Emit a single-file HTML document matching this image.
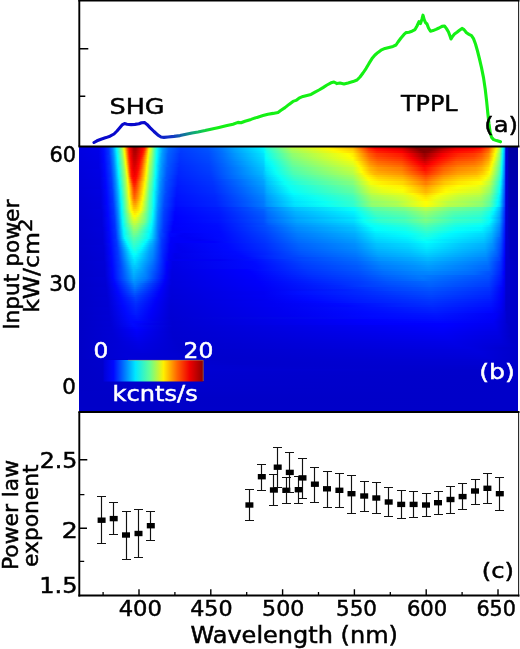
<!DOCTYPE html>
<html lang="en">
<head>
<meta charset="utf-8">
<title>SHG and TPPL spectra versus input power</title>
<style>
html,body{margin:0;padding:0;background:#fff;}
body{width:520px;height:649px;overflow:hidden;}
svg{display:block;}
text{font-family:"DejaVu Sans", "Liberation Sans", sans-serif;}
</style>
</head>
<body>
<svg width="520" height="649" viewBox="0 0 520 649">
<defs>
<linearGradient id="sg" gradientUnits="userSpaceOnUse" x1="150" y1="0" x2="215" y2="0">
<stop offset="0" stop-color="#0808cc"/><stop offset="0.35" stop-color="#1238c4"/><stop offset="0.7" stop-color="#10b070"/><stop offset="1" stop-color="#14f014"/>
</linearGradient>
<linearGradient id="cb" x1="0" y1="0" x2="1" y2="0">
<stop offset="0" stop-color="#0000d8"/><stop offset="0.10" stop-color="#0008ff"/><stop offset="0.32" stop-color="#00e8ff"/><stop offset="0.46" stop-color="#60ff98"/><stop offset="0.60" stop-color="#fff000"/><stop offset="0.74" stop-color="#ff6000"/><stop offset="0.86" stop-color="#f00000"/><stop offset="1" stop-color="#8c0000"/>
</linearGradient>

<linearGradient id="r0"><stop offset="0" stop-color="#0000e1"/><stop offset="0.04554" stop-color="#0000ea"/><stop offset="0.05692" stop-color="#000cff"/><stop offset="0.06831" stop-color="#0039ff"/><stop offset="0.07741" stop-color="#0086ff"/><stop offset="0.08652" stop-color="#00ffff"/><stop offset="0.09791" stop-color="#97ff68"/><stop offset="0.1025" stop-color="#f0ff0f"/><stop offset="0.1047" stop-color="#ffdb00"/><stop offset="0.1116" stop-color="#ff3f00"/><stop offset="0.1138" stop-color="#ff1700"/><stop offset="0.1161" stop-color="#f80000"/><stop offset="0.1252" stop-color="#a40000"/><stop offset="0.1298" stop-color="#a40000"/><stop offset="0.1457" stop-color="#fb0000"/><stop offset="0.1503" stop-color="#ff2500"/><stop offset="0.1548" stop-color="#ff7d00"/><stop offset="0.1594" stop-color="#ffea00"/><stop offset="0.1617" stop-color="#e2ff1d"/><stop offset="0.1639" stop-color="#daff25"/><stop offset="0.173" stop-color="#47ffb8"/><stop offset="0.1799" stop-color="#00f7ff"/><stop offset="0.189" stop-color="#00a9ff"/><stop offset="0.2049" stop-color="#0065ff"/><stop offset="0.2322" stop-color="#003eff"/><stop offset="0.2937" stop-color="#0055ff"/><stop offset="0.3256" stop-color="#0078ff"/><stop offset="0.3552" stop-color="#00a6ff"/><stop offset="0.4098" stop-color="#00eaff"/><stop offset="0.4212" stop-color="#00feff"/><stop offset="0.4258" stop-color="#26ffd9"/><stop offset="0.444" stop-color="#50ffaf"/><stop offset="0.485" stop-color="#b5ff4a"/><stop offset="0.5669" stop-color="#fff800"/><stop offset="0.6239" stop-color="#ffbc00"/><stop offset="0.6603" stop-color="#ff2200"/><stop offset="0.674" stop-color="#fa0000"/><stop offset="0.7354" stop-color="#d00000"/><stop offset="0.7696" stop-color="#800000"/><stop offset="0.8106" stop-color="#840000"/><stop offset="0.8584" stop-color="#df0000"/><stop offset="0.8971" stop-color="#f20000"/><stop offset="0.913" stop-color="#ff0500"/><stop offset="0.9335" stop-color="#ff5200"/><stop offset="0.9517" stop-color="#fdff02"/><stop offset="0.9586" stop-color="#b0ff4f"/><stop offset="0.9654" stop-color="#0ffff0"/><stop offset="0.9677" stop-color="#00d3ff"/><stop offset="0.9699" stop-color="#0098ff"/><stop offset="0.9722" stop-color="#0000d3"/><stop offset="0.9768" stop-color="#0000d3"/><stop offset="0.9791" stop-color="#0000a3"/><stop offset="0.9995" stop-color="#0000a3"/></linearGradient>
<linearGradient id="r1"><stop offset="0" stop-color="#0000e0"/><stop offset="0.04554" stop-color="#0000e9"/><stop offset="0.05692" stop-color="#000bff"/><stop offset="0.06831" stop-color="#0036ff"/><stop offset="0.07741" stop-color="#0082ff"/><stop offset="0.08652" stop-color="#00fbff"/><stop offset="0.09791" stop-color="#8fff70"/><stop offset="0.1025" stop-color="#e5ff1a"/><stop offset="0.1047" stop-color="#ffe700"/><stop offset="0.1116" stop-color="#ff4700"/><stop offset="0.1161" stop-color="#fd0000"/><stop offset="0.1252" stop-color="#aa0000"/><stop offset="0.1298" stop-color="#aa0000"/><stop offset="0.1457" stop-color="#ff0500"/><stop offset="0.1503" stop-color="#ff3700"/><stop offset="0.1594" stop-color="#fff700"/><stop offset="0.1617" stop-color="#d8ff27"/><stop offset="0.1639" stop-color="#d1ff2e"/><stop offset="0.173" stop-color="#42ffbd"/><stop offset="0.1776" stop-color="#0cfff3"/><stop offset="0.1821" stop-color="#00ddff"/><stop offset="0.1913" stop-color="#0099ff"/><stop offset="0.2049" stop-color="#0062ff"/><stop offset="0.2322" stop-color="#003bff"/><stop offset="0.2937" stop-color="#0051ff"/><stop offset="0.3256" stop-color="#0074ff"/><stop offset="0.3552" stop-color="#00a0ff"/><stop offset="0.4121" stop-color="#00e6ff"/><stop offset="0.4212" stop-color="#00f6ff"/><stop offset="0.4281" stop-color="#20ffdf"/><stop offset="0.485" stop-color="#a7ff58"/><stop offset="0.5806" stop-color="#fff900"/><stop offset="0.6239" stop-color="#ffce00"/><stop offset="0.6603" stop-color="#ff3800"/><stop offset="0.6785" stop-color="#ff0f00"/><stop offset="0.7149" stop-color="#f70000"/><stop offset="0.7354" stop-color="#e90000"/><stop offset="0.7787" stop-color="#800000"/><stop offset="0.8015" stop-color="#850000"/><stop offset="0.8311" stop-color="#cb0000"/><stop offset="0.8607" stop-color="#f80000"/><stop offset="0.8971" stop-color="#ff0b00"/><stop offset="0.9153" stop-color="#ff2400"/><stop offset="0.9335" stop-color="#ff6700"/><stop offset="0.9495" stop-color="#fff700"/><stop offset="0.9586" stop-color="#a2ff5d"/><stop offset="0.9654" stop-color="#06fff9"/><stop offset="0.9699" stop-color="#0092ff"/><stop offset="0.9722" stop-color="#0000d3"/><stop offset="0.9768" stop-color="#0000d3"/><stop offset="0.9791" stop-color="#0000a4"/><stop offset="0.9995" stop-color="#0000a4"/></linearGradient>
<linearGradient id="r2"><stop offset="0" stop-color="#0000e0"/><stop offset="0.04554" stop-color="#0000e8"/><stop offset="0.05692" stop-color="#000aff"/><stop offset="0.06831" stop-color="#0034ff"/><stop offset="0.07741" stop-color="#007fff"/><stop offset="0.08652" stop-color="#00f5ff"/><stop offset="0.09791" stop-color="#87ff78"/><stop offset="0.1025" stop-color="#daff25"/><stop offset="0.1047" stop-color="#fff300"/><stop offset="0.1138" stop-color="#ff2400"/><stop offset="0.1161" stop-color="#ff0300"/><stop offset="0.1252" stop-color="#b00000"/><stop offset="0.1298" stop-color="#b10000"/><stop offset="0.1434" stop-color="#fd0000"/><stop offset="0.148" stop-color="#ff2700"/><stop offset="0.1548" stop-color="#ffa500"/><stop offset="0.1594" stop-color="#fcff03"/><stop offset="0.1617" stop-color="#cfff30"/><stop offset="0.1639" stop-color="#c9ff36"/><stop offset="0.173" stop-color="#3effc1"/><stop offset="0.1776" stop-color="#09fff6"/><stop offset="0.1913" stop-color="#0097ff"/><stop offset="0.2049" stop-color="#0060ff"/><stop offset="0.2322" stop-color="#0039ff"/><stop offset="0.296" stop-color="#0050ff"/><stop offset="0.3256" stop-color="#0070ff"/><stop offset="0.3552" stop-color="#009cff"/><stop offset="0.4121" stop-color="#00e0ff"/><stop offset="0.4212" stop-color="#00f0ff"/><stop offset="0.4235" stop-color="#03fffc"/><stop offset="0.4281" stop-color="#19ffe6"/><stop offset="0.485" stop-color="#9dff62"/><stop offset="0.592" stop-color="#fff800"/><stop offset="0.6239" stop-color="#ffdb00"/><stop offset="0.6603" stop-color="#ff4900"/><stop offset="0.6785" stop-color="#ff2000"/><stop offset="0.7354" stop-color="#fb0000"/><stop offset="0.7855" stop-color="#800000"/><stop offset="0.7969" stop-color="#8d0000"/><stop offset="0.8288" stop-color="#d90000"/><stop offset="0.8561" stop-color="#ff0900"/><stop offset="0.8971" stop-color="#ff1c00"/><stop offset="0.9153" stop-color="#ff3400"/><stop offset="0.9335" stop-color="#ff7600"/><stop offset="0.9495" stop-color="#fbff04"/><stop offset="0.9586" stop-color="#99ff66"/><stop offset="0.9654" stop-color="#00ffff"/><stop offset="0.9699" stop-color="#008eff"/><stop offset="0.9722" stop-color="#0000d3"/><stop offset="0.9768" stop-color="#0000d3"/><stop offset="0.9791" stop-color="#0000a5"/><stop offset="0.9995" stop-color="#0000a5"/></linearGradient>
<linearGradient id="r3"><stop offset="0" stop-color="#0000df"/><stop offset="0.04554" stop-color="#0000e7"/><stop offset="0.05692" stop-color="#0009ff"/><stop offset="0.06831" stop-color="#0032ff"/><stop offset="0.07969" stop-color="#0095ff"/><stop offset="0.08652" stop-color="#00f0ff"/><stop offset="0.09107" stop-color="#2affd5"/><stop offset="0.1002" stop-color="#a5ff5a"/><stop offset="0.1047" stop-color="#ffff00"/><stop offset="0.1138" stop-color="#ff2a00"/><stop offset="0.1161" stop-color="#ff0800"/><stop offset="0.1252" stop-color="#b60000"/><stop offset="0.1298" stop-color="#b70000"/><stop offset="0.1434" stop-color="#ff0700"/><stop offset="0.148" stop-color="#ff3800"/><stop offset="0.1571" stop-color="#ffe100"/><stop offset="0.1594" stop-color="#f1ff0e"/><stop offset="0.1617" stop-color="#c6ff39"/><stop offset="0.1639" stop-color="#c0ff3f"/><stop offset="0.1753" stop-color="#1effe1"/><stop offset="0.1776" stop-color="#05fffa"/><stop offset="0.189" stop-color="#00a0ff"/><stop offset="0.2026" stop-color="#0062ff"/><stop offset="0.23" stop-color="#0036ff"/><stop offset="0.296" stop-color="#004dff"/><stop offset="0.3279" stop-color="#006fff"/><stop offset="0.3575" stop-color="#0098ff"/><stop offset="0.4121" stop-color="#00d8ff"/><stop offset="0.4212" stop-color="#00e6ff"/><stop offset="0.4258" stop-color="#0bfff4"/><stop offset="0.4463" stop-color="#38ffc7"/><stop offset="0.4872" stop-color="#90ff6f"/><stop offset="0.6125" stop-color="#fffe00"/><stop offset="0.6239" stop-color="#ffef00"/><stop offset="0.6603" stop-color="#ff6100"/><stop offset="0.6785" stop-color="#ff3a00"/><stop offset="0.7354" stop-color="#ff1700"/><stop offset="0.7514" stop-color="#f30000"/><stop offset="0.7878" stop-color="#960000"/><stop offset="0.8288" stop-color="#f60000"/><stop offset="0.8652" stop-color="#ff2600"/><stop offset="0.9016" stop-color="#ff3b00"/><stop offset="0.9176" stop-color="#ff5600"/><stop offset="0.9335" stop-color="#ff8d00"/><stop offset="0.9472" stop-color="#ffff00"/><stop offset="0.9586" stop-color="#8aff75"/><stop offset="0.9654" stop-color="#00f5ff"/><stop offset="0.9699" stop-color="#0088ff"/><stop offset="0.9722" stop-color="#0000d3"/><stop offset="0.9768" stop-color="#0000d3"/><stop offset="0.9791" stop-color="#0000a7"/><stop offset="0.9995" stop-color="#0000a7"/></linearGradient>
<linearGradient id="r4"><stop offset="0" stop-color="#0000df"/><stop offset="0.04554" stop-color="#0000e6"/><stop offset="0.05692" stop-color="#0008ff"/><stop offset="0.07058" stop-color="#003fff"/><stop offset="0.07969" stop-color="#0090ff"/><stop offset="0.08652" stop-color="#00ebff"/><stop offset="0.0888" stop-color="#0afff5"/><stop offset="0.1002" stop-color="#9dff62"/><stop offset="0.1047" stop-color="#f4ff0b"/><stop offset="0.107" stop-color="#ffd600"/><stop offset="0.1138" stop-color="#ff3300"/><stop offset="0.1161" stop-color="#ff0e00"/><stop offset="0.1207" stop-color="#dd0000"/><stop offset="0.1252" stop-color="#bc0000"/><stop offset="0.1298" stop-color="#be0000"/><stop offset="0.1412" stop-color="#ff0000"/><stop offset="0.1457" stop-color="#ff2900"/><stop offset="0.1571" stop-color="#ffec00"/><stop offset="0.1594" stop-color="#e8ff17"/><stop offset="0.1617" stop-color="#bfff40"/><stop offset="0.1639" stop-color="#baff45"/><stop offset="0.1753" stop-color="#1bffe4"/><stop offset="0.1776" stop-color="#02fffd"/><stop offset="0.189" stop-color="#009eff"/><stop offset="0.2026" stop-color="#0060ff"/><stop offset="0.23" stop-color="#0035ff"/><stop offset="0.296" stop-color="#004bff"/><stop offset="0.3279" stop-color="#006eff"/><stop offset="0.3575" stop-color="#0096ff"/><stop offset="0.4144" stop-color="#00d9ff"/><stop offset="0.4212" stop-color="#00e4ff"/><stop offset="0.4258" stop-color="#08fff7"/><stop offset="0.4463" stop-color="#35ffca"/><stop offset="0.4872" stop-color="#8dff72"/><stop offset="0.617" stop-color="#ffff00"/><stop offset="0.6261" stop-color="#ffea00"/><stop offset="0.6603" stop-color="#ff6700"/><stop offset="0.6785" stop-color="#ff3f00"/><stop offset="0.7354" stop-color="#ff1d00"/><stop offset="0.7536" stop-color="#f40000"/><stop offset="0.7878" stop-color="#9c0000"/><stop offset="0.8288" stop-color="#fc0000"/><stop offset="0.8629" stop-color="#ff2b00"/><stop offset="0.8994" stop-color="#ff3e00"/><stop offset="0.9176" stop-color="#ff5b00"/><stop offset="0.9335" stop-color="#ff9200"/><stop offset="0.9472" stop-color="#fbff04"/><stop offset="0.9586" stop-color="#86ff79"/><stop offset="0.9631" stop-color="#26ffd9"/><stop offset="0.9654" stop-color="#00f3ff"/><stop offset="0.9699" stop-color="#0087ff"/><stop offset="0.9722" stop-color="#0000d3"/><stop offset="0.9768" stop-color="#0000d3"/><stop offset="0.9791" stop-color="#0000a7"/><stop offset="0.9995" stop-color="#0000a7"/></linearGradient>
<linearGradient id="r5"><stop offset="0" stop-color="#0000de"/><stop offset="0.04554" stop-color="#0000e6"/><stop offset="0.05692" stop-color="#0007ff"/><stop offset="0.07058" stop-color="#003cff"/><stop offset="0.07969" stop-color="#008cff"/><stop offset="0.0888" stop-color="#05fffa"/><stop offset="0.1002" stop-color="#95ff6a"/><stop offset="0.1047" stop-color="#e8ff17"/><stop offset="0.107" stop-color="#ffe200"/><stop offset="0.1138" stop-color="#ff3c00"/><stop offset="0.1161" stop-color="#ff1500"/><stop offset="0.1184" stop-color="#f80000"/><stop offset="0.1252" stop-color="#c20000"/><stop offset="0.1298" stop-color="#c40000"/><stop offset="0.1389" stop-color="#f90000"/><stop offset="0.1434" stop-color="#ff1e00"/><stop offset="0.1526" stop-color="#ffa800"/><stop offset="0.1571" stop-color="#fff600"/><stop offset="0.1617" stop-color="#b7ff48"/><stop offset="0.1639" stop-color="#b2ff4d"/><stop offset="0.1753" stop-color="#18ffe7"/><stop offset="0.1776" stop-color="#00feff"/><stop offset="0.1867" stop-color="#00a9ff"/><stop offset="0.2026" stop-color="#005eff"/><stop offset="0.23" stop-color="#0033ff"/><stop offset="0.296" stop-color="#0049ff"/><stop offset="0.3279" stop-color="#006bff"/><stop offset="0.3575" stop-color="#0092ff"/><stop offset="0.4144" stop-color="#00d4ff"/><stop offset="0.4212" stop-color="#00dfff"/><stop offset="0.4258" stop-color="#02fffd"/><stop offset="0.4485" stop-color="#34ffcb"/><stop offset="0.4872" stop-color="#84ff7b"/><stop offset="0.6239" stop-color="#fffe00"/><stop offset="0.6626" stop-color="#ff6f00"/><stop offset="0.6785" stop-color="#ff4e00"/><stop offset="0.7354" stop-color="#ff2c00"/><stop offset="0.7582" stop-color="#fb0000"/><stop offset="0.7878" stop-color="#ae0000"/><stop offset="0.8219" stop-color="#ff0200"/><stop offset="0.8607" stop-color="#ff3a00"/><stop offset="0.8994" stop-color="#ff4d00"/><stop offset="0.9176" stop-color="#ff6900"/><stop offset="0.9335" stop-color="#ff9f00"/><stop offset="0.9449" stop-color="#fffc00"/><stop offset="0.9586" stop-color="#7eff81"/><stop offset="0.9631" stop-color="#20ffdf"/><stop offset="0.9654" stop-color="#00edff"/><stop offset="0.9699" stop-color="#0083ff"/><stop offset="0.9722" stop-color="#0000d3"/><stop offset="0.9768" stop-color="#0000d3"/><stop offset="0.9791" stop-color="#0000a8"/><stop offset="0.9995" stop-color="#0000a8"/></linearGradient>
<linearGradient id="r6"><stop offset="0" stop-color="#0000de"/><stop offset="0.04554" stop-color="#0000e5"/><stop offset="0.05692" stop-color="#0006ff"/><stop offset="0.07058" stop-color="#003aff"/><stop offset="0.07969" stop-color="#0088ff"/><stop offset="0.0888" stop-color="#00ffff"/><stop offset="0.1002" stop-color="#8dff72"/><stop offset="0.1047" stop-color="#ddff22"/><stop offset="0.107" stop-color="#ffef00"/><stop offset="0.1138" stop-color="#ff4500"/><stop offset="0.1184" stop-color="#fd0000"/><stop offset="0.1252" stop-color="#c70000"/><stop offset="0.1298" stop-color="#cb0000"/><stop offset="0.1389" stop-color="#ff0200"/><stop offset="0.1457" stop-color="#ff4a00"/><stop offset="0.1571" stop-color="#ffff00"/><stop offset="0.1617" stop-color="#b0ff4f"/><stop offset="0.1639" stop-color="#acff53"/><stop offset="0.1753" stop-color="#14ffeb"/><stop offset="0.1776" stop-color="#00fbff"/><stop offset="0.1867" stop-color="#00a6ff"/><stop offset="0.2026" stop-color="#005cff"/><stop offset="0.23" stop-color="#0031ff"/><stop offset="0.296" stop-color="#0047ff"/><stop offset="0.3279" stop-color="#0068ff"/><stop offset="0.3597" stop-color="#0090ff"/><stop offset="0.4167" stop-color="#00d3ff"/><stop offset="0.4212" stop-color="#00daff"/><stop offset="0.4258" stop-color="#00fcff"/><stop offset="0.4417" stop-color="#1bffe4"/><stop offset="0.4872" stop-color="#7cff83"/><stop offset="0.6239" stop-color="#f6ff09"/><stop offset="0.6444" stop-color="#ffbb00"/><stop offset="0.6626" stop-color="#ff7b00"/><stop offset="0.6808" stop-color="#ff5900"/><stop offset="0.7354" stop-color="#ff3900"/><stop offset="0.765" stop-color="#f80000"/><stop offset="0.7878" stop-color="#be0000"/><stop offset="0.8174" stop-color="#ff0800"/><stop offset="0.8607" stop-color="#ff4700"/><stop offset="0.8994" stop-color="#ff5a00"/><stop offset="0.9176" stop-color="#ff7500"/><stop offset="0.9335" stop-color="#ffab00"/><stop offset="0.9449" stop-color="#f9ff06"/><stop offset="0.9586" stop-color="#76ff89"/><stop offset="0.9631" stop-color="#1affe5"/><stop offset="0.9654" stop-color="#00e8ff"/><stop offset="0.9699" stop-color="#0080ff"/><stop offset="0.9722" stop-color="#0000d3"/><stop offset="0.9768" stop-color="#0000d3"/><stop offset="0.9791" stop-color="#0000a8"/><stop offset="0.9995" stop-color="#0000a8"/></linearGradient>
<linearGradient id="r7"><stop offset="0" stop-color="#0000dd"/><stop offset="0.04554" stop-color="#0000e4"/><stop offset="0.05692" stop-color="#0005ff"/><stop offset="0.07058" stop-color="#0037ff"/><stop offset="0.07969" stop-color="#0084ff"/><stop offset="0.0888" stop-color="#00fbff"/><stop offset="0.1002" stop-color="#86ff79"/><stop offset="0.107" stop-color="#fffb00"/><stop offset="0.1138" stop-color="#ff4f00"/><stop offset="0.1184" stop-color="#ff0300"/><stop offset="0.1252" stop-color="#cd0000"/><stop offset="0.1298" stop-color="#d10000"/><stop offset="0.1389" stop-color="#ff0900"/><stop offset="0.1457" stop-color="#ff5600"/><stop offset="0.1571" stop-color="#f7ff08"/><stop offset="0.1617" stop-color="#a9ff56"/><stop offset="0.1639" stop-color="#a5ff5a"/><stop offset="0.1753" stop-color="#11ffee"/><stop offset="0.1776" stop-color="#00f7ff"/><stop offset="0.1867" stop-color="#00a3ff"/><stop offset="0.2026" stop-color="#005aff"/><stop offset="0.23" stop-color="#002fff"/><stop offset="0.2983" stop-color="#0046ff"/><stop offset="0.3301" stop-color="#0069ff"/><stop offset="0.3643" stop-color="#008fff"/><stop offset="0.4212" stop-color="#00d4ff"/><stop offset="0.4258" stop-color="#00f5ff"/><stop offset="0.4394" stop-color="#0efff1"/><stop offset="0.4872" stop-color="#72ff8d"/><stop offset="0.6239" stop-color="#e9ff16"/><stop offset="0.633" stop-color="#fff500"/><stop offset="0.6626" stop-color="#ff8b00"/><stop offset="0.6808" stop-color="#ff6a00"/><stop offset="0.7354" stop-color="#ff4b00"/><stop offset="0.7719" stop-color="#fa0000"/><stop offset="0.7878" stop-color="#d30000"/><stop offset="0.8083" stop-color="#ff0500"/><stop offset="0.8584" stop-color="#ff5900"/><stop offset="0.8994" stop-color="#ff6b00"/><stop offset="0.9176" stop-color="#ff8600"/><stop offset="0.9335" stop-color="#ffba00"/><stop offset="0.9426" stop-color="#fdff02"/><stop offset="0.9586" stop-color="#6cff93"/><stop offset="0.9631" stop-color="#12ffed"/><stop offset="0.9654" stop-color="#00e1ff"/><stop offset="0.9699" stop-color="#007cff"/><stop offset="0.9722" stop-color="#0000d3"/><stop offset="0.9768" stop-color="#0000d3"/><stop offset="0.9791" stop-color="#0000a9"/><stop offset="0.9995" stop-color="#0000a9"/></linearGradient>
<linearGradient id="r8"><stop offset="0" stop-color="#0000dd"/><stop offset="0.04554" stop-color="#0000e3"/><stop offset="0.0592" stop-color="#000bff"/><stop offset="0.07058" stop-color="#0035ff"/><stop offset="0.07969" stop-color="#0080ff"/><stop offset="0.0888" stop-color="#00f6ff"/><stop offset="0.1002" stop-color="#80ff7f"/><stop offset="0.107" stop-color="#f8ff07"/><stop offset="0.1116" stop-color="#ff9400"/><stop offset="0.1161" stop-color="#ff2900"/><stop offset="0.1184" stop-color="#ff0800"/><stop offset="0.1252" stop-color="#d30000"/><stop offset="0.1298" stop-color="#d70000"/><stop offset="0.1366" stop-color="#ff0000"/><stop offset="0.1434" stop-color="#ff4200"/><stop offset="0.1548" stop-color="#ffeb00"/><stop offset="0.1571" stop-color="#efff10"/><stop offset="0.1617" stop-color="#a3ff5c"/><stop offset="0.1639" stop-color="#9fff60"/><stop offset="0.1753" stop-color="#0efff1"/><stop offset="0.1799" stop-color="#00dcff"/><stop offset="0.189" stop-color="#0093ff"/><stop offset="0.2026" stop-color="#0058ff"/><stop offset="0.2277" stop-color="#002dff"/><stop offset="0.296" stop-color="#0042ff"/><stop offset="0.3279" stop-color="#0062ff"/><stop offset="0.3597" stop-color="#0089ff"/><stop offset="0.4167" stop-color="#00c9ff"/><stop offset="0.4212" stop-color="#00d0ff"/><stop offset="0.4258" stop-color="#00f0ff"/><stop offset="0.4394" stop-color="#09fff6"/><stop offset="0.4872" stop-color="#6cff93"/><stop offset="0.6239" stop-color="#e1ff1e"/><stop offset="0.6352" stop-color="#fff600"/><stop offset="0.6626" stop-color="#ff9600"/><stop offset="0.6808" stop-color="#ff7500"/><stop offset="0.7354" stop-color="#ff5700"/><stop offset="0.7764" stop-color="#fc0000"/><stop offset="0.7901" stop-color="#e30000"/><stop offset="0.8037" stop-color="#ff0600"/><stop offset="0.8379" stop-color="#ff4700"/><stop offset="0.8629" stop-color="#ff6400"/><stop offset="0.9016" stop-color="#ff7800"/><stop offset="0.9176" stop-color="#ff9000"/><stop offset="0.9335" stop-color="#ffc400"/><stop offset="0.9403" stop-color="#fff800"/><stop offset="0.9517" stop-color="#a7ff58"/><stop offset="0.9586" stop-color="#66ff99"/><stop offset="0.9631" stop-color="#0dfff2"/><stop offset="0.9654" stop-color="#00ddff"/><stop offset="0.9699" stop-color="#0079ff"/><stop offset="0.9722" stop-color="#0000d3"/><stop offset="0.9768" stop-color="#0000d3"/><stop offset="0.9791" stop-color="#0000aa"/><stop offset="0.9995" stop-color="#0000aa"/></linearGradient>
<linearGradient id="r9"><stop offset="0" stop-color="#0000dc"/><stop offset="0.04554" stop-color="#0000e3"/><stop offset="0.0592" stop-color="#000aff"/><stop offset="0.07286" stop-color="#0041ff"/><stop offset="0.08197" stop-color="#0096ff"/><stop offset="0.0888" stop-color="#00f1ff"/><stop offset="0.09335" stop-color="#29ffd6"/><stop offset="0.1025" stop-color="#9aff65"/><stop offset="0.107" stop-color="#ecff13"/><stop offset="0.1093" stop-color="#ffdd00"/><stop offset="0.1161" stop-color="#ff3000"/><stop offset="0.1184" stop-color="#ff0d00"/><stop offset="0.123" stop-color="#e40000"/><stop offset="0.1275" stop-color="#d60000"/><stop offset="0.1366" stop-color="#ff0700"/><stop offset="0.1434" stop-color="#ff4e00"/><stop offset="0.1548" stop-color="#fff300"/><stop offset="0.1594" stop-color="#c2ff3d"/><stop offset="0.1617" stop-color="#9cff63"/><stop offset="0.1639" stop-color="#99ff66"/><stop offset="0.1753" stop-color="#0afff5"/><stop offset="0.1821" stop-color="#00c1ff"/><stop offset="0.1935" stop-color="#0078ff"/><stop offset="0.2072" stop-color="#004dff"/><stop offset="0.23" stop-color="#002bff"/><stop offset="0.2983" stop-color="#0041ff"/><stop offset="0.3301" stop-color="#0063ff"/><stop offset="0.3643" stop-color="#0088ff"/><stop offset="0.4212" stop-color="#00caff"/><stop offset="0.4258" stop-color="#00eaff"/><stop offset="0.4417" stop-color="#07fff8"/><stop offset="0.4872" stop-color="#63ff9c"/><stop offset="0.6239" stop-color="#d5ff2a"/><stop offset="0.6375" stop-color="#fffb00"/><stop offset="0.6626" stop-color="#ffa500"/><stop offset="0.6808" stop-color="#ff8500"/><stop offset="0.7354" stop-color="#ff6700"/><stop offset="0.7855" stop-color="#f90000"/><stop offset="0.7992" stop-color="#ff0e00"/><stop offset="0.8333" stop-color="#ff5100"/><stop offset="0.8629" stop-color="#ff7500"/><stop offset="0.9039" stop-color="#ff8a00"/><stop offset="0.9176" stop-color="#ffa000"/><stop offset="0.9335" stop-color="#ffd200"/><stop offset="0.9403" stop-color="#f9ff06"/><stop offset="0.9563" stop-color="#72ff8d"/><stop offset="0.9586" stop-color="#5dffa2"/><stop offset="0.9631" stop-color="#06fff9"/><stop offset="0.9699" stop-color="#0076ff"/><stop offset="0.9722" stop-color="#0000d2"/><stop offset="0.9768" stop-color="#0000d2"/><stop offset="0.9791" stop-color="#0000ab"/><stop offset="0.9995" stop-color="#0000ab"/></linearGradient>
<linearGradient id="r10"><stop offset="0" stop-color="#0000dc"/><stop offset="0.04554" stop-color="#0000e2"/><stop offset="0.0592" stop-color="#0009ff"/><stop offset="0.07286" stop-color="#003fff"/><stop offset="0.08197" stop-color="#0092ff"/><stop offset="0.0888" stop-color="#00ecff"/><stop offset="0.09107" stop-color="#0afff5"/><stop offset="0.1025" stop-color="#93ff6c"/><stop offset="0.107" stop-color="#e1ff1e"/><stop offset="0.1093" stop-color="#ffeb00"/><stop offset="0.1161" stop-color="#ff3900"/><stop offset="0.1184" stop-color="#ff1300"/><stop offset="0.1207" stop-color="#f90000"/><stop offset="0.1252" stop-color="#de0000"/><stop offset="0.1321" stop-color="#ef0000"/><stop offset="0.1366" stop-color="#ff0e00"/><stop offset="0.1434" stop-color="#ff5900"/><stop offset="0.1548" stop-color="#fffa00"/><stop offset="0.1617" stop-color="#96ff69"/><stop offset="0.1639" stop-color="#93ff6c"/><stop offset="0.1753" stop-color="#07fff8"/><stop offset="0.1867" stop-color="#009bff"/><stop offset="0.2004" stop-color="#0059ff"/><stop offset="0.2277" stop-color="#0029ff"/><stop offset="0.2983" stop-color="#003fff"/><stop offset="0.3301" stop-color="#005fff"/><stop offset="0.3666" stop-color="#0085ff"/><stop offset="0.4212" stop-color="#00c4ff"/><stop offset="0.4258" stop-color="#00e2ff"/><stop offset="0.444" stop-color="#05fffa"/><stop offset="0.4872" stop-color="#58ffa7"/><stop offset="0.6239" stop-color="#c7ff38"/><stop offset="0.6421" stop-color="#fffa00"/><stop offset="0.6626" stop-color="#ffb600"/><stop offset="0.6808" stop-color="#ff9700"/><stop offset="0.7354" stop-color="#ff7a00"/><stop offset="0.7878" stop-color="#ff0a00"/><stop offset="0.8311" stop-color="#ff6100"/><stop offset="0.8629" stop-color="#ff8700"/><stop offset="0.9039" stop-color="#ff9c00"/><stop offset="0.9176" stop-color="#ffb100"/><stop offset="0.9335" stop-color="#ffe200"/><stop offset="0.9381" stop-color="#fbff04"/><stop offset="0.954" stop-color="#7cff83"/><stop offset="0.9586" stop-color="#52ffad"/><stop offset="0.9631" stop-color="#00fdff"/><stop offset="0.9699" stop-color="#0071ff"/><stop offset="0.9722" stop-color="#0000d2"/><stop offset="0.9768" stop-color="#0000d2"/><stop offset="0.9791" stop-color="#0000ac"/><stop offset="0.9995" stop-color="#0000ac"/></linearGradient>
<linearGradient id="r11"><stop offset="0" stop-color="#0000db"/><stop offset="0.04781" stop-color="#0000e5"/><stop offset="0.0592" stop-color="#0008ff"/><stop offset="0.07286" stop-color="#003cff"/><stop offset="0.08197" stop-color="#008eff"/><stop offset="0.09107" stop-color="#05fffa"/><stop offset="0.1025" stop-color="#8cff73"/><stop offset="0.1093" stop-color="#fff700"/><stop offset="0.1161" stop-color="#ff4300"/><stop offset="0.1207" stop-color="#fe0000"/><stop offset="0.1252" stop-color="#e40000"/><stop offset="0.1321" stop-color="#f50000"/><stop offset="0.1366" stop-color="#ff1600"/><stop offset="0.148" stop-color="#ffa200"/><stop offset="0.1548" stop-color="#fcff03"/><stop offset="0.1617" stop-color="#91ff6e"/><stop offset="0.1639" stop-color="#8eff71"/><stop offset="0.1753" stop-color="#04fffb"/><stop offset="0.1867" stop-color="#0099ff"/><stop offset="0.2004" stop-color="#0058ff"/><stop offset="0.2277" stop-color="#0028ff"/><stop offset="0.2983" stop-color="#003eff"/><stop offset="0.3301" stop-color="#005eff"/><stop offset="0.3666" stop-color="#0084ff"/><stop offset="0.4212" stop-color="#00c2ff"/><stop offset="0.4258" stop-color="#00e1ff"/><stop offset="0.4463" stop-color="#09fff6"/><stop offset="0.4872" stop-color="#56ffa9"/><stop offset="0.6239" stop-color="#c5ff3a"/><stop offset="0.6421" stop-color="#fffc00"/><stop offset="0.6626" stop-color="#ffb800"/><stop offset="0.6808" stop-color="#ff9900"/><stop offset="0.7354" stop-color="#ff7d00"/><stop offset="0.7878" stop-color="#ff0d00"/><stop offset="0.8311" stop-color="#ff6400"/><stop offset="0.8629" stop-color="#ff8a00"/><stop offset="0.9039" stop-color="#ff9e00"/><stop offset="0.9176" stop-color="#ffb300"/><stop offset="0.9335" stop-color="#ffe400"/><stop offset="0.9381" stop-color="#f9ff06"/><stop offset="0.954" stop-color="#7aff85"/><stop offset="0.9586" stop-color="#51ffae"/><stop offset="0.9631" stop-color="#00fcff"/><stop offset="0.9699" stop-color="#0070ff"/><stop offset="0.9722" stop-color="#0000d2"/><stop offset="0.9768" stop-color="#0000d2"/><stop offset="0.9791" stop-color="#0000ac"/><stop offset="0.9995" stop-color="#0000ac"/></linearGradient>
<linearGradient id="r12"><stop offset="0" stop-color="#0000db"/><stop offset="0.04781" stop-color="#0000e4"/><stop offset="0.0592" stop-color="#0007ff"/><stop offset="0.07286" stop-color="#003aff"/><stop offset="0.08197" stop-color="#0089ff"/><stop offset="0.09107" stop-color="#00ffff"/><stop offset="0.1047" stop-color="#a6ff59"/><stop offset="0.1093" stop-color="#fcff03"/><stop offset="0.1161" stop-color="#ff4e00"/><stop offset="0.1184" stop-color="#ff2100"/><stop offset="0.1207" stop-color="#ff0500"/><stop offset="0.1275" stop-color="#e80000"/><stop offset="0.1343" stop-color="#ff0b00"/><stop offset="0.1434" stop-color="#ff6f00"/><stop offset="0.1526" stop-color="#ffe800"/><stop offset="0.1548" stop-color="#f5ff0a"/><stop offset="0.1617" stop-color="#8bff74"/><stop offset="0.1639" stop-color="#89ff76"/><stop offset="0.1753" stop-color="#01fffe"/><stop offset="0.1844" stop-color="#00a5ff"/><stop offset="0.2004" stop-color="#0056ff"/><stop offset="0.2277" stop-color="#0026ff"/><stop offset="0.3005" stop-color="#003dff"/><stop offset="0.3324" stop-color="#005fff"/><stop offset="0.4189" stop-color="#00baff"/><stop offset="0.4235" stop-color="#00cdff"/><stop offset="0.4281" stop-color="#00deff"/><stop offset="0.4485" stop-color="#09fff6"/><stop offset="0.4895" stop-color="#50ffaf"/><stop offset="0.6239" stop-color="#bbff44"/><stop offset="0.6444" stop-color="#ffff00"/><stop offset="0.6648" stop-color="#ffc000"/><stop offset="0.6831" stop-color="#ffa500"/><stop offset="0.7354" stop-color="#ff8b00"/><stop offset="0.7901" stop-color="#ff2000"/><stop offset="0.8311" stop-color="#ff7200"/><stop offset="0.8629" stop-color="#ff9700"/><stop offset="0.9039" stop-color="#ffab00"/><stop offset="0.9199" stop-color="#ffc700"/><stop offset="0.9358" stop-color="#feff01"/><stop offset="0.954" stop-color="#71ff8e"/><stop offset="0.9586" stop-color="#49ffb6"/><stop offset="0.9631" stop-color="#00f5ff"/><stop offset="0.9699" stop-color="#006dff"/><stop offset="0.9722" stop-color="#0000d2"/><stop offset="0.9768" stop-color="#0000d2"/><stop offset="0.9791" stop-color="#0000ac"/><stop offset="0.9995" stop-color="#0000ac"/></linearGradient>
<linearGradient id="r13"><stop offset="0" stop-color="#0000da"/><stop offset="0.04781" stop-color="#0000e3"/><stop offset="0.0592" stop-color="#0006ff"/><stop offset="0.07286" stop-color="#0037ff"/><stop offset="0.08197" stop-color="#0085ff"/><stop offset="0.09107" stop-color="#00fbff"/><stop offset="0.1047" stop-color="#9fff60"/><stop offset="0.1093" stop-color="#f0ff0f"/><stop offset="0.1116" stop-color="#ffd700"/><stop offset="0.1161" stop-color="#ff5900"/><stop offset="0.1184" stop-color="#ff2800"/><stop offset="0.1207" stop-color="#ff0a00"/><stop offset="0.1275" stop-color="#ee0000"/><stop offset="0.1321" stop-color="#ff0300"/><stop offset="0.1389" stop-color="#ff4000"/><stop offset="0.1526" stop-color="#ffef00"/><stop offset="0.1548" stop-color="#eeff11"/><stop offset="0.1617" stop-color="#85ff7a"/><stop offset="0.1639" stop-color="#84ff7b"/><stop offset="0.1753" stop-color="#00fdff"/><stop offset="0.1844" stop-color="#00a3ff"/><stop offset="0.2004" stop-color="#0054ff"/><stop offset="0.2277" stop-color="#0025ff"/><stop offset="0.3005" stop-color="#003bff"/><stop offset="0.3347" stop-color="#0060ff"/><stop offset="0.4189" stop-color="#00b7ff"/><stop offset="0.4235" stop-color="#00c9ff"/><stop offset="0.4281" stop-color="#00daff"/><stop offset="0.4508" stop-color="#09fff6"/><stop offset="0.4895" stop-color="#4bffb4"/><stop offset="0.6239" stop-color="#b4ff4b"/><stop offset="0.6489" stop-color="#fff600"/><stop offset="0.674" stop-color="#ffb500"/><stop offset="0.7354" stop-color="#ff9400"/><stop offset="0.7901" stop-color="#ff2c00"/><stop offset="0.8311" stop-color="#ff7c00"/><stop offset="0.8629" stop-color="#ffa100"/><stop offset="0.9062" stop-color="#ffb700"/><stop offset="0.9221" stop-color="#ffd600"/><stop offset="0.9358" stop-color="#f6ff09"/><stop offset="0.954" stop-color="#6bff94"/><stop offset="0.9586" stop-color="#43ffbc"/><stop offset="0.9631" stop-color="#00f1ff"/><stop offset="0.9699" stop-color="#006bff"/><stop offset="0.9722" stop-color="#0000d2"/><stop offset="0.9768" stop-color="#0000d2"/><stop offset="0.9791" stop-color="#0000ad"/><stop offset="0.9995" stop-color="#0000ad"/></linearGradient>
<linearGradient id="r14"><stop offset="0" stop-color="#0000da"/><stop offset="0.04781" stop-color="#0000e3"/><stop offset="0.0592" stop-color="#0005ff"/><stop offset="0.07286" stop-color="#0035ff"/><stop offset="0.08197" stop-color="#0081ff"/><stop offset="0.09107" stop-color="#00f6ff"/><stop offset="0.1047" stop-color="#98ff67"/><stop offset="0.1093" stop-color="#e4ff1b"/><stop offset="0.1116" stop-color="#ffe600"/><stop offset="0.1161" stop-color="#ff6400"/><stop offset="0.1184" stop-color="#ff2f00"/><stop offset="0.1207" stop-color="#ff0f00"/><stop offset="0.1252" stop-color="#f40000"/><stop offset="0.1321" stop-color="#ff0900"/><stop offset="0.1412" stop-color="#ff6600"/><stop offset="0.1526" stop-color="#fff600"/><stop offset="0.1594" stop-color="#a2ff5d"/><stop offset="0.1617" stop-color="#80ff7f"/><stop offset="0.1639" stop-color="#7fff80"/><stop offset="0.1753" stop-color="#00f9ff"/><stop offset="0.1844" stop-color="#009fff"/><stop offset="0.2004" stop-color="#0052ff"/><stop offset="0.2254" stop-color="#0023ff"/><stop offset="0.3005" stop-color="#0038ff"/><stop offset="0.3347" stop-color="#005cff"/><stop offset="0.4189" stop-color="#00afff"/><stop offset="0.4281" stop-color="#00d2ff"/><stop offset="0.4554" stop-color="#07fff8"/><stop offset="0.4895" stop-color="#3fffc0"/><stop offset="0.6239" stop-color="#a4ff5b"/><stop offset="0.6535" stop-color="#fff800"/><stop offset="0.6785" stop-color="#ffc700"/><stop offset="0.7377" stop-color="#ffa600"/><stop offset="0.7901" stop-color="#ff4500"/><stop offset="0.8311" stop-color="#ff9300"/><stop offset="0.8629" stop-color="#ffb600"/><stop offset="0.9062" stop-color="#ffcb00"/><stop offset="0.9221" stop-color="#ffea00"/><stop offset="0.9335" stop-color="#f3ff0c"/><stop offset="0.954" stop-color="#5effa1"/><stop offset="0.9586" stop-color="#37ffc8"/><stop offset="0.9608" stop-color="#12ffed"/><stop offset="0.9631" stop-color="#00e8ff"/><stop offset="0.9699" stop-color="#0066ff"/><stop offset="0.9722" stop-color="#0000d2"/><stop offset="0.9768" stop-color="#0000d2"/><stop offset="0.9791" stop-color="#0000ae"/><stop offset="0.9995" stop-color="#0000ae"/></linearGradient>
<linearGradient id="r15"><stop offset="0" stop-color="#0000da"/><stop offset="0.04781" stop-color="#0000e2"/><stop offset="0.06148" stop-color="#000bff"/><stop offset="0.07514" stop-color="#0041ff"/><stop offset="0.08424" stop-color="#0098ff"/><stop offset="0.09107" stop-color="#00f0ff"/><stop offset="0.09563" stop-color="#27ffd8"/><stop offset="0.107" stop-color="#b5ff4a"/><stop offset="0.1116" stop-color="#fff300"/><stop offset="0.1184" stop-color="#ff4600"/><stop offset="0.1207" stop-color="#ff1f00"/><stop offset="0.123" stop-color="#ff0800"/><stop offset="0.1298" stop-color="#ff0500"/><stop offset="0.1366" stop-color="#ff3f00"/><stop offset="0.1526" stop-color="#ffff00"/><stop offset="0.1617" stop-color="#7aff85"/><stop offset="0.1639" stop-color="#79ff86"/><stop offset="0.173" stop-color="#0ffff0"/><stop offset="0.1753" stop-color="#00f5ff"/><stop offset="0.1844" stop-color="#009cff"/><stop offset="0.1981" stop-color="#0056ff"/><stop offset="0.2254" stop-color="#0021ff"/><stop offset="0.3028" stop-color="#0037ff"/><stop offset="0.3415" stop-color="#0062ff"/><stop offset="0.4167" stop-color="#00a7ff"/><stop offset="0.4235" stop-color="#00bbff"/><stop offset="0.4303" stop-color="#00ceff"/><stop offset="0.4599" stop-color="#08fff7"/><stop offset="0.4918" stop-color="#38ffc7"/><stop offset="0.6239" stop-color="#99ff66"/><stop offset="0.658" stop-color="#fffa00"/><stop offset="0.6808" stop-color="#ffd400"/><stop offset="0.7377" stop-color="#ffb600"/><stop offset="0.7901" stop-color="#ff5700"/><stop offset="0.8311" stop-color="#ffa300"/><stop offset="0.8652" stop-color="#ffc600"/><stop offset="0.9107" stop-color="#ffde00"/><stop offset="0.9267" stop-color="#f9ff06"/><stop offset="0.9358" stop-color="#d7ff28"/><stop offset="0.954" stop-color="#54ffab"/><stop offset="0.9586" stop-color="#2fffd0"/><stop offset="0.9608" stop-color="#0bfff4"/><stop offset="0.9654" stop-color="#00b9ff"/><stop offset="0.9699" stop-color="#0062ff"/><stop offset="0.9722" stop-color="#0000d2"/><stop offset="0.9768" stop-color="#0000d2"/><stop offset="0.9791" stop-color="#0000af"/><stop offset="0.9995" stop-color="#0000af"/></linearGradient>
<linearGradient id="r16"><stop offset="0" stop-color="#0000d9"/><stop offset="0.04781" stop-color="#0000e1"/><stop offset="0.06148" stop-color="#0009ff"/><stop offset="0.07514" stop-color="#003fff"/><stop offset="0.08424" stop-color="#0093ff"/><stop offset="0.09335" stop-color="#08fff7"/><stop offset="0.107" stop-color="#b0ff4f"/><stop offset="0.1116" stop-color="#fffd00"/><stop offset="0.1207" stop-color="#ff2f00"/><stop offset="0.1252" stop-color="#ff0600"/><stop offset="0.1298" stop-color="#ff0e00"/><stop offset="0.1389" stop-color="#ff6700"/><stop offset="0.1526" stop-color="#f6ff09"/><stop offset="0.1617" stop-color="#74ff8b"/><stop offset="0.1639" stop-color="#73ff8c"/><stop offset="0.173" stop-color="#0bfff4"/><stop offset="0.1799" stop-color="#00c0ff"/><stop offset="0.1913" stop-color="#0072ff"/><stop offset="0.2049" stop-color="#0043ff"/><stop offset="0.2254" stop-color="#001fff"/><stop offset="0.3028" stop-color="#0035ff"/><stop offset="0.3689" stop-color="#0072ff"/><stop offset="0.4212" stop-color="#00a8ff"/><stop offset="0.4281" stop-color="#00c6ff"/><stop offset="0.4622" stop-color="#05fffa"/><stop offset="0.4918" stop-color="#30ffcf"/><stop offset="0.6239" stop-color="#8fff70"/><stop offset="0.6603" stop-color="#fcff03"/><stop offset="0.6831" stop-color="#ffe000"/><stop offset="0.7377" stop-color="#ffc400"/><stop offset="0.7901" stop-color="#ff6700"/><stop offset="0.8311" stop-color="#ffb200"/><stop offset="0.8652" stop-color="#ffd400"/><stop offset="0.913" stop-color="#ffed00"/><stop offset="0.9244" stop-color="#f3ff0c"/><stop offset="0.9358" stop-color="#ccff33"/><stop offset="0.954" stop-color="#4cffb3"/><stop offset="0.9586" stop-color="#27ffd8"/><stop offset="0.9608" stop-color="#04fffb"/><stop offset="0.9699" stop-color="#005fff"/><stop offset="0.9722" stop-color="#0000d2"/><stop offset="0.9768" stop-color="#0000d2"/><stop offset="0.9791" stop-color="#0000af"/><stop offset="0.9995" stop-color="#0000af"/></linearGradient>
<linearGradient id="r17"><stop offset="0" stop-color="#0000d9"/><stop offset="0.04781" stop-color="#0000e0"/><stop offset="0.06148" stop-color="#0008ff"/><stop offset="0.07514" stop-color="#003cff"/><stop offset="0.08424" stop-color="#008fff"/><stop offset="0.09335" stop-color="#02fffd"/><stop offset="0.107" stop-color="#abff54"/><stop offset="0.1116" stop-color="#f9ff06"/><stop offset="0.1207" stop-color="#ff4500"/><stop offset="0.123" stop-color="#ff2300"/><stop offset="0.1252" stop-color="#ff1100"/><stop offset="0.1298" stop-color="#ff1900"/><stop offset="0.1503" stop-color="#fff300"/><stop offset="0.1548" stop-color="#cdff32"/><stop offset="0.1617" stop-color="#6eff91"/><stop offset="0.1639" stop-color="#6cff93"/><stop offset="0.173" stop-color="#06fff9"/><stop offset="0.1844" stop-color="#0096ff"/><stop offset="0.1981" stop-color="#0051ff"/><stop offset="0.2254" stop-color="#001dff"/><stop offset="0.3051" stop-color="#0033ff"/><stop offset="0.3666" stop-color="#006cff"/><stop offset="0.4212" stop-color="#00a2ff"/><stop offset="0.4281" stop-color="#00bfff"/><stop offset="0.469" stop-color="#09fff6"/><stop offset="0.5055" stop-color="#30ffcf"/><stop offset="0.6239" stop-color="#82ff7d"/><stop offset="0.6648" stop-color="#f6ff09"/><stop offset="0.6922" stop-color="#ffec00"/><stop offset="0.7377" stop-color="#ffd600"/><stop offset="0.7901" stop-color="#ff7c00"/><stop offset="0.8333" stop-color="#ffc700"/><stop offset="0.8652" stop-color="#ffe500"/><stop offset="0.9153" stop-color="#fbff04"/><stop offset="0.9358" stop-color="#bdff42"/><stop offset="0.9563" stop-color="#2fffd0"/><stop offset="0.9608" stop-color="#00faff"/><stop offset="0.9699" stop-color="#005bff"/><stop offset="0.9722" stop-color="#0000d2"/><stop offset="0.9768" stop-color="#0000d2"/><stop offset="0.9791" stop-color="#0000b0"/><stop offset="0.9995" stop-color="#0000b0"/></linearGradient>
<linearGradient id="r18"><stop offset="0" stop-color="#0000d8"/><stop offset="0.04781" stop-color="#0000e0"/><stop offset="0.06148" stop-color="#0007ff"/><stop offset="0.07514" stop-color="#0039ff"/><stop offset="0.08424" stop-color="#008aff"/><stop offset="0.09335" stop-color="#00fcff"/><stop offset="0.107" stop-color="#a6ff59"/><stop offset="0.1116" stop-color="#f1ff0e"/><stop offset="0.1138" stop-color="#ffe200"/><stop offset="0.123" stop-color="#ff3400"/><stop offset="0.1252" stop-color="#ff1e00"/><stop offset="0.1298" stop-color="#ff2500"/><stop offset="0.1503" stop-color="#fffb00"/><stop offset="0.1617" stop-color="#68ff97"/><stop offset="0.1639" stop-color="#67ff98"/><stop offset="0.173" stop-color="#03fffc"/><stop offset="0.1844" stop-color="#0094ff"/><stop offset="0.1981" stop-color="#0050ff"/><stop offset="0.2254" stop-color="#001cff"/><stop offset="0.3051" stop-color="#0032ff"/><stop offset="0.3689" stop-color="#006dff"/><stop offset="0.4212" stop-color="#00a1ff"/><stop offset="0.4281" stop-color="#00beff"/><stop offset="0.469" stop-color="#08fff7"/><stop offset="0.5055" stop-color="#2fffd0"/><stop offset="0.6239" stop-color="#81ff7e"/><stop offset="0.6648" stop-color="#f4ff0b"/><stop offset="0.6876" stop-color="#fff000"/><stop offset="0.7377" stop-color="#ffd700"/><stop offset="0.7901" stop-color="#ff7d00"/><stop offset="0.8333" stop-color="#ffc800"/><stop offset="0.8652" stop-color="#ffe600"/><stop offset="0.9153" stop-color="#faff05"/><stop offset="0.9358" stop-color="#bcff43"/><stop offset="0.9563" stop-color="#2effd1"/><stop offset="0.9608" stop-color="#00f9ff"/><stop offset="0.9699" stop-color="#005bff"/><stop offset="0.9722" stop-color="#0000d2"/><stop offset="0.9768" stop-color="#0000d2"/><stop offset="0.9791" stop-color="#0000b0"/><stop offset="0.9995" stop-color="#0000b0"/></linearGradient>
<linearGradient id="r19"><stop offset="0" stop-color="#0000d8"/><stop offset="0.04781" stop-color="#0000df"/><stop offset="0.06148" stop-color="#0006ff"/><stop offset="0.07514" stop-color="#0037ff"/><stop offset="0.08652" stop-color="#00a0ff"/><stop offset="0.09335" stop-color="#00f6ff"/><stop offset="0.1047" stop-color="#81ff7e"/><stop offset="0.1116" stop-color="#ebff14"/><stop offset="0.1138" stop-color="#ffec00"/><stop offset="0.123" stop-color="#ff4600"/><stop offset="0.1252" stop-color="#ff2c00"/><stop offset="0.1275" stop-color="#ff2600"/><stop offset="0.1343" stop-color="#ff5c00"/><stop offset="0.1503" stop-color="#fcff03"/><stop offset="0.1617" stop-color="#62ff9d"/><stop offset="0.1639" stop-color="#62ff9d"/><stop offset="0.173" stop-color="#00fdff"/><stop offset="0.1844" stop-color="#0091ff"/><stop offset="0.1981" stop-color="#004eff"/><stop offset="0.2254" stop-color="#0019ff"/><stop offset="0.3074" stop-color="#0030ff"/><stop offset="0.3666" stop-color="#0066ff"/><stop offset="0.4212" stop-color="#009aff"/><stop offset="0.4281" stop-color="#00b6ff"/><stop offset="0.4759" stop-color="#08fff7"/><stop offset="0.6239" stop-color="#71ff8e"/><stop offset="0.6648" stop-color="#e0ff1f"/><stop offset="0.6876" stop-color="#f9ff06"/><stop offset="0.7354" stop-color="#fff100"/><stop offset="0.7901" stop-color="#ff9700"/><stop offset="0.8333" stop-color="#ffdf00"/><stop offset="0.8652" stop-color="#fffc00"/><stop offset="0.9039" stop-color="#f1ff0e"/><stop offset="0.9221" stop-color="#d4ff2b"/><stop offset="0.9358" stop-color="#aaff55"/><stop offset="0.9563" stop-color="#21ffde"/><stop offset="0.9586" stop-color="#10ffef"/><stop offset="0.9608" stop-color="#00eeff"/><stop offset="0.9699" stop-color="#0056ff"/><stop offset="0.9722" stop-color="#0000d2"/><stop offset="0.9768" stop-color="#0000d2"/><stop offset="0.9791" stop-color="#0000b2"/><stop offset="0.9995" stop-color="#0000b2"/></linearGradient>
<linearGradient id="r20"><stop offset="0" stop-color="#0000d7"/><stop offset="0.04781" stop-color="#0000de"/><stop offset="0.06148" stop-color="#0005ff"/><stop offset="0.07514" stop-color="#0034ff"/><stop offset="0.08652" stop-color="#009cff"/><stop offset="0.09335" stop-color="#00f1ff"/><stop offset="0.09791" stop-color="#29ffd6"/><stop offset="0.1093" stop-color="#c0ff3f"/><stop offset="0.1138" stop-color="#fff400"/><stop offset="0.123" stop-color="#ff5900"/><stop offset="0.1252" stop-color="#ff3f00"/><stop offset="0.1275" stop-color="#ff3600"/><stop offset="0.1321" stop-color="#ff5100"/><stop offset="0.148" stop-color="#fff000"/><stop offset="0.1503" stop-color="#f4ff0b"/><stop offset="0.1617" stop-color="#5dffa2"/><stop offset="0.1639" stop-color="#5cffa3"/><stop offset="0.173" stop-color="#00f9ff"/><stop offset="0.1844" stop-color="#008eff"/><stop offset="0.1981" stop-color="#004cff"/><stop offset="0.2231" stop-color="#0018ff"/><stop offset="0.3051" stop-color="#002dff"/><stop offset="0.3757" stop-color="#0069ff"/><stop offset="0.4212" stop-color="#0095ff"/><stop offset="0.4281" stop-color="#00b1ff"/><stop offset="0.4804" stop-color="#08fff7"/><stop offset="0.6239" stop-color="#68ff97"/><stop offset="0.6648" stop-color="#d4ff2b"/><stop offset="0.6899" stop-color="#eeff11"/><stop offset="0.74" stop-color="#fff700"/><stop offset="0.7901" stop-color="#ffa600"/><stop offset="0.8356" stop-color="#ffef00"/><stop offset="0.8607" stop-color="#f6ff09"/><stop offset="0.9107" stop-color="#e0ff1f"/><stop offset="0.9358" stop-color="#9fff60"/><stop offset="0.9563" stop-color="#1affe5"/><stop offset="0.9586" stop-color="#09fff6"/><stop offset="0.9631" stop-color="#00c4ff"/><stop offset="0.9699" stop-color="#0053ff"/><stop offset="0.9722" stop-color="#0000d2"/><stop offset="0.9768" stop-color="#0000d2"/><stop offset="0.9791" stop-color="#0000b2"/><stop offset="0.9995" stop-color="#0000b2"/></linearGradient>
<linearGradient id="r21"><stop offset="0" stop-color="#0000d7"/><stop offset="0.05009" stop-color="#0000e1"/><stop offset="0.06375" stop-color="#000bff"/><stop offset="0.07741" stop-color="#0041ff"/><stop offset="0.0888" stop-color="#00b3ff"/><stop offset="0.09563" stop-color="#08fff7"/><stop offset="0.1093" stop-color="#bbff44"/><stop offset="0.1138" stop-color="#fffa00"/><stop offset="0.123" stop-color="#ff6200"/><stop offset="0.1252" stop-color="#ff4800"/><stop offset="0.1275" stop-color="#ff4000"/><stop offset="0.1321" stop-color="#ff5a00"/><stop offset="0.148" stop-color="#fff700"/><stop offset="0.1526" stop-color="#ceff31"/><stop offset="0.1617" stop-color="#58ffa7"/><stop offset="0.1639" stop-color="#58ffa7"/><stop offset="0.173" stop-color="#00f5ff"/><stop offset="0.1844" stop-color="#008cff"/><stop offset="0.1981" stop-color="#004aff"/><stop offset="0.2231" stop-color="#0017ff"/><stop offset="0.3074" stop-color="#002dff"/><stop offset="0.3711" stop-color="#0063ff"/><stop offset="0.4212" stop-color="#0092ff"/><stop offset="0.4281" stop-color="#00adff"/><stop offset="0.4827" stop-color="#06fff9"/><stop offset="0.6239" stop-color="#62ff9d"/><stop offset="0.6648" stop-color="#cdff32"/><stop offset="0.6899" stop-color="#e6ff19"/><stop offset="0.7377" stop-color="#fcff03"/><stop offset="0.7901" stop-color="#ffaf00"/><stop offset="0.8356" stop-color="#fff700"/><stop offset="0.913" stop-color="#d7ff28"/><stop offset="0.9358" stop-color="#98ff67"/><stop offset="0.9563" stop-color="#15ffea"/><stop offset="0.9586" stop-color="#04fffb"/><stop offset="0.9699" stop-color="#0051ff"/><stop offset="0.9722" stop-color="#0000d2"/><stop offset="0.9768" stop-color="#0000d2"/><stop offset="0.9791" stop-color="#0000b3"/><stop offset="0.9995" stop-color="#0000b3"/></linearGradient>
<linearGradient id="r22"><stop offset="0" stop-color="#0000d7"/><stop offset="0.05009" stop-color="#0000e1"/><stop offset="0.06375" stop-color="#000aff"/><stop offset="0.07741" stop-color="#003eff"/><stop offset="0.0888" stop-color="#00aeff"/><stop offset="0.09563" stop-color="#03fffc"/><stop offset="0.1093" stop-color="#b6ff49"/><stop offset="0.1138" stop-color="#ffff00"/><stop offset="0.123" stop-color="#ff6b00"/><stop offset="0.1252" stop-color="#ff5200"/><stop offset="0.1275" stop-color="#ff4900"/><stop offset="0.1321" stop-color="#ff6400"/><stop offset="0.148" stop-color="#fffe00"/><stop offset="0.1617" stop-color="#53ffac"/><stop offset="0.1639" stop-color="#53ffac"/><stop offset="0.1708" stop-color="#0bfff4"/><stop offset="0.1776" stop-color="#00c1ff"/><stop offset="0.189" stop-color="#0070ff"/><stop offset="0.2026" stop-color="#003eff"/><stop offset="0.2231" stop-color="#0016ff"/><stop offset="0.3074" stop-color="#002cff"/><stop offset="0.3734" stop-color="#0063ff"/><stop offset="0.4212" stop-color="#0090ff"/><stop offset="0.4281" stop-color="#00abff"/><stop offset="0.485" stop-color="#04fffb"/><stop offset="0.6239" stop-color="#5effa1"/><stop offset="0.6648" stop-color="#c8ff37"/><stop offset="0.6899" stop-color="#e1ff1e"/><stop offset="0.7377" stop-color="#f6ff09"/><stop offset="0.7673" stop-color="#ffd800"/><stop offset="0.7901" stop-color="#ffb500"/><stop offset="0.8356" stop-color="#fffd00"/><stop offset="0.8698" stop-color="#e8ff17"/><stop offset="0.9153" stop-color="#cdff32"/><stop offset="0.9358" stop-color="#94ff6b"/><stop offset="0.9563" stop-color="#12ffed"/><stop offset="0.9586" stop-color="#01fffe"/><stop offset="0.9699" stop-color="#004fff"/><stop offset="0.9722" stop-color="#0000d1"/><stop offset="0.9768" stop-color="#0000d1"/><stop offset="0.9791" stop-color="#0000b3"/><stop offset="0.9995" stop-color="#0000b3"/></linearGradient>
<linearGradient id="r23"><stop offset="0" stop-color="#0000d6"/><stop offset="0.05009" stop-color="#0000e0"/><stop offset="0.06375" stop-color="#0009ff"/><stop offset="0.07741" stop-color="#003cff"/><stop offset="0.0888" stop-color="#00a9ff"/><stop offset="0.09563" stop-color="#00fdff"/><stop offset="0.1093" stop-color="#b0ff4f"/><stop offset="0.1138" stop-color="#f8ff07"/><stop offset="0.123" stop-color="#ff7400"/><stop offset="0.1252" stop-color="#ff5b00"/><stop offset="0.1275" stop-color="#ff5300"/><stop offset="0.1343" stop-color="#ff8200"/><stop offset="0.148" stop-color="#f8ff07"/><stop offset="0.1617" stop-color="#4fffb0"/><stop offset="0.1639" stop-color="#4fffb0"/><stop offset="0.1708" stop-color="#07fff8"/><stop offset="0.1844" stop-color="#0087ff"/><stop offset="0.1981" stop-color="#0046ff"/><stop offset="0.2231" stop-color="#0014ff"/><stop offset="0.3097" stop-color="#002aff"/><stop offset="0.3711" stop-color="#005dff"/><stop offset="0.4212" stop-color="#008aff"/><stop offset="0.4281" stop-color="#00a4ff"/><stop offset="0.4895" stop-color="#00fdff"/><stop offset="0.6239" stop-color="#51ffae"/><stop offset="0.6648" stop-color="#b8ff47"/><stop offset="0.6922" stop-color="#d1ff2e"/><stop offset="0.7377" stop-color="#e5ff1a"/><stop offset="0.7605" stop-color="#fff800"/><stop offset="0.7901" stop-color="#ffc900"/><stop offset="0.8242" stop-color="#fcff03"/><stop offset="0.8652" stop-color="#d7ff28"/><stop offset="0.913" stop-color="#c2ff3d"/><stop offset="0.9358" stop-color="#86ff79"/><stop offset="0.9586" stop-color="#00f7ff"/><stop offset="0.9699" stop-color="#004bff"/><stop offset="0.9722" stop-color="#0000d1"/><stop offset="0.9768" stop-color="#0000d1"/><stop offset="0.9791" stop-color="#0000b4"/><stop offset="0.9995" stop-color="#0000b4"/></linearGradient>
<linearGradient id="r24"><stop offset="0" stop-color="#0000d6"/><stop offset="0.05009" stop-color="#0000df"/><stop offset="0.06375" stop-color="#0008ff"/><stop offset="0.07741" stop-color="#0039ff"/><stop offset="0.0888" stop-color="#00a5ff"/><stop offset="0.09563" stop-color="#00f9ff"/><stop offset="0.1093" stop-color="#a9ff56"/><stop offset="0.1138" stop-color="#f0ff0f"/><stop offset="0.1184" stop-color="#ffc400"/><stop offset="0.1252" stop-color="#ff6500"/><stop offset="0.1275" stop-color="#ff5d00"/><stop offset="0.1343" stop-color="#ff8b00"/><stop offset="0.1457" stop-color="#fff500"/><stop offset="0.1503" stop-color="#d3ff2c"/><stop offset="0.1617" stop-color="#4cffb3"/><stop offset="0.1639" stop-color="#4bffb4"/><stop offset="0.1708" stop-color="#05fffa"/><stop offset="0.1821" stop-color="#0093ff"/><stop offset="0.1958" stop-color="#004bff"/><stop offset="0.2231" stop-color="#0012ff"/><stop offset="0.3119" stop-color="#0028ff"/><stop offset="0.3689" stop-color="#0057ff"/><stop offset="0.4212" stop-color="#0084ff"/><stop offset="0.4281" stop-color="#009dff"/><stop offset="0.4895" stop-color="#00f3ff"/><stop offset="0.5396" stop-color="#12ffed"/><stop offset="0.6239" stop-color="#45ffba"/><stop offset="0.6671" stop-color="#acff53"/><stop offset="0.7149" stop-color="#c8ff37"/><stop offset="0.74" stop-color="#d7ff28"/><stop offset="0.7719" stop-color="#fff600"/><stop offset="0.7901" stop-color="#ffdd00"/><stop offset="0.8151" stop-color="#f6ff09"/><stop offset="0.8652" stop-color="#c7ff38"/><stop offset="0.913" stop-color="#b2ff4d"/><stop offset="0.9358" stop-color="#78ff87"/><stop offset="0.9563" stop-color="#00fdff"/><stop offset="0.9608" stop-color="#00d0ff"/><stop offset="0.9699" stop-color="#0048ff"/><stop offset="0.9722" stop-color="#0000d1"/><stop offset="0.9768" stop-color="#0000d1"/><stop offset="0.9791" stop-color="#0000b5"/><stop offset="0.9995" stop-color="#0000b5"/></linearGradient>
<linearGradient id="r25"><stop offset="0" stop-color="#0000d5"/><stop offset="0.05009" stop-color="#0000de"/><stop offset="0.06375" stop-color="#0007ff"/><stop offset="0.07741" stop-color="#0036ff"/><stop offset="0.0888" stop-color="#00a1ff"/><stop offset="0.09563" stop-color="#00f6ff"/><stop offset="0.1047" stop-color="#65ff9a"/><stop offset="0.1138" stop-color="#e9ff16"/><stop offset="0.1161" stop-color="#fff100"/><stop offset="0.123" stop-color="#ff8700"/><stop offset="0.1252" stop-color="#ff6f00"/><stop offset="0.1275" stop-color="#ff6700"/><stop offset="0.1343" stop-color="#ff9400"/><stop offset="0.1457" stop-color="#fffe00"/><stop offset="0.1617" stop-color="#49ffb6"/><stop offset="0.1639" stop-color="#48ffb7"/><stop offset="0.1708" stop-color="#02fffd"/><stop offset="0.1821" stop-color="#0090ff"/><stop offset="0.1958" stop-color="#0049ff"/><stop offset="0.2209" stop-color="#0011ff"/><stop offset="0.3097" stop-color="#0025ff"/><stop offset="0.378" stop-color="#005bff"/><stop offset="0.4212" stop-color="#0081ff"/><stop offset="0.4281" stop-color="#0099ff"/><stop offset="0.4918" stop-color="#00efff"/><stop offset="0.5396" stop-color="#0bfff4"/><stop offset="0.6239" stop-color="#3dffc2"/><stop offset="0.6671" stop-color="#a3ff5c"/><stop offset="0.7172" stop-color="#beff41"/><stop offset="0.7423" stop-color="#d0ff2f"/><stop offset="0.7787" stop-color="#fff600"/><stop offset="0.7901" stop-color="#ffe900"/><stop offset="0.8106" stop-color="#f2ff0d"/><stop offset="0.8652" stop-color="#bcff43"/><stop offset="0.9153" stop-color="#a3ff5c"/><stop offset="0.9358" stop-color="#6fff90"/><stop offset="0.9563" stop-color="#00f7ff"/><stop offset="0.9608" stop-color="#00cbff"/><stop offset="0.9699" stop-color="#0045ff"/><stop offset="0.9722" stop-color="#0000d1"/><stop offset="0.9768" stop-color="#0000d1"/><stop offset="0.9791" stop-color="#0000b5"/><stop offset="0.9995" stop-color="#0000b5"/></linearGradient>
<linearGradient id="r26"><stop offset="0" stop-color="#0000d5"/><stop offset="0.05009" stop-color="#0000de"/><stop offset="0.06375" stop-color="#0006ff"/><stop offset="0.07741" stop-color="#0034ff"/><stop offset="0.0888" stop-color="#009dff"/><stop offset="0.09563" stop-color="#00f2ff"/><stop offset="0.1002" stop-color="#2affd5"/><stop offset="0.1116" stop-color="#bfff40"/><stop offset="0.1161" stop-color="#fffa00"/><stop offset="0.123" stop-color="#ff9600"/><stop offset="0.1275" stop-color="#ff7800"/><stop offset="0.1343" stop-color="#ffa200"/><stop offset="0.1457" stop-color="#f8ff07"/><stop offset="0.1617" stop-color="#46ffb9"/><stop offset="0.1639" stop-color="#45ffba"/><stop offset="0.1708" stop-color="#00ffff"/><stop offset="0.1821" stop-color="#008eff"/><stop offset="0.1958" stop-color="#0047ff"/><stop offset="0.2209" stop-color="#0010ff"/><stop offset="0.3097" stop-color="#0024ff"/><stop offset="0.3802" stop-color="#005aff"/><stop offset="0.4212" stop-color="#007eff"/><stop offset="0.4281" stop-color="#0096ff"/><stop offset="0.4918" stop-color="#00ebff"/><stop offset="0.5464" stop-color="#0bfff4"/><stop offset="0.6239" stop-color="#39ffc6"/><stop offset="0.6671" stop-color="#9cff63"/><stop offset="0.7195" stop-color="#b8ff47"/><stop offset="0.7468" stop-color="#cfff30"/><stop offset="0.7832" stop-color="#fff600"/><stop offset="0.7923" stop-color="#fff400"/><stop offset="0.8151" stop-color="#e4ff1b"/><stop offset="0.8652" stop-color="#b6ff49"/><stop offset="0.9153" stop-color="#9dff62"/><stop offset="0.9358" stop-color="#6aff95"/><stop offset="0.954" stop-color="#02fffd"/><stop offset="0.9586" stop-color="#00e4ff"/><stop offset="0.9699" stop-color="#0043ff"/><stop offset="0.9722" stop-color="#0000d1"/><stop offset="0.9768" stop-color="#0000d1"/><stop offset="0.9791" stop-color="#0000b5"/><stop offset="0.9995" stop-color="#0000b5"/></linearGradient>
<linearGradient id="r27"><stop offset="0" stop-color="#0000d5"/><stop offset="0.05009" stop-color="#0000dd"/><stop offset="0.06375" stop-color="#0005ff"/><stop offset="0.07741" stop-color="#0032ff"/><stop offset="0.08652" stop-color="#0080ff"/><stop offset="0.09563" stop-color="#00eeff"/><stop offset="0.09791" stop-color="#0bfff4"/><stop offset="0.1116" stop-color="#b8ff47"/><stop offset="0.1161" stop-color="#fbff04"/><stop offset="0.1252" stop-color="#ff9100"/><stop offset="0.1298" stop-color="#ff9000"/><stop offset="0.1434" stop-color="#fff900"/><stop offset="0.1526" stop-color="#a1ff5e"/><stop offset="0.1617" stop-color="#43ffbc"/><stop offset="0.1639" stop-color="#42ffbd"/><stop offset="0.1708" stop-color="#00fdff"/><stop offset="0.1821" stop-color="#008bff"/><stop offset="0.1958" stop-color="#0045ff"/><stop offset="0.2209" stop-color="#000eff"/><stop offset="0.3119" stop-color="#0023ff"/><stop offset="0.378" stop-color="#0055ff"/><stop offset="0.4212" stop-color="#0079ff"/><stop offset="0.4281" stop-color="#0091ff"/><stop offset="0.4918" stop-color="#00e3ff"/><stop offset="0.5624" stop-color="#0afff5"/><stop offset="0.6261" stop-color="#33ffcc"/><stop offset="0.6671" stop-color="#8fff70"/><stop offset="0.7263" stop-color="#abff54"/><stop offset="0.7901" stop-color="#fdff02"/><stop offset="0.8402" stop-color="#b9ff46"/><stop offset="0.8743" stop-color="#a7ff58"/><stop offset="0.9176" stop-color="#8bff74"/><stop offset="0.9358" stop-color="#5effa1"/><stop offset="0.954" stop-color="#00f9ff"/><stop offset="0.9586" stop-color="#00dcff"/><stop offset="0.9699" stop-color="#0040ff"/><stop offset="0.9722" stop-color="#0000d1"/><stop offset="0.9768" stop-color="#0000d1"/><stop offset="0.9791" stop-color="#0000b6"/><stop offset="0.9995" stop-color="#0000b6"/></linearGradient>
<linearGradient id="r28"><stop offset="0" stop-color="#0000d4"/><stop offset="0.05009" stop-color="#0000dc"/><stop offset="0.06375" stop-color="#0004ff"/><stop offset="0.07969" stop-color="#003eff"/><stop offset="0.09107" stop-color="#00b1ff"/><stop offset="0.09791" stop-color="#07fff8"/><stop offset="0.1116" stop-color="#b2ff4d"/><stop offset="0.1161" stop-color="#f3ff0c"/><stop offset="0.1207" stop-color="#ffce00"/><stop offset="0.1252" stop-color="#ffa100"/><stop offset="0.1298" stop-color="#ffa100"/><stop offset="0.1434" stop-color="#fdff02"/><stop offset="0.1617" stop-color="#40ffbf"/><stop offset="0.1639" stop-color="#40ffbf"/><stop offset="0.1708" stop-color="#00fbff"/><stop offset="0.1799" stop-color="#009bff"/><stop offset="0.1935" stop-color="#004cff"/><stop offset="0.2209" stop-color="#000eff"/><stop offset="0.3119" stop-color="#0023ff"/><stop offset="0.3757" stop-color="#0054ff"/><stop offset="0.4212" stop-color="#007aff"/><stop offset="0.4281" stop-color="#0092ff"/><stop offset="0.4918" stop-color="#00e5ff"/><stop offset="0.5556" stop-color="#09fff6"/><stop offset="0.6239" stop-color="#31ffce"/><stop offset="0.6671" stop-color="#93ff6c"/><stop offset="0.724" stop-color="#afff50"/><stop offset="0.7719" stop-color="#eaff15"/><stop offset="0.7923" stop-color="#feff01"/><stop offset="0.8424" stop-color="#bcff43"/><stop offset="0.8789" stop-color="#abff54"/><stop offset="0.9176" stop-color="#8fff70"/><stop offset="0.9358" stop-color="#61ff9e"/><stop offset="0.954" stop-color="#00fbff"/><stop offset="0.9586" stop-color="#00deff"/><stop offset="0.9699" stop-color="#0041ff"/><stop offset="0.9722" stop-color="#0000d1"/><stop offset="0.9768" stop-color="#0000d1"/><stop offset="0.9791" stop-color="#0000b6"/><stop offset="0.9995" stop-color="#0000b6"/></linearGradient>
<linearGradient id="r29"><stop offset="0" stop-color="#0000d4"/><stop offset="0.05009" stop-color="#0000dc"/><stop offset="0.06603" stop-color="#000aff"/><stop offset="0.07969" stop-color="#003cff"/><stop offset="0.09107" stop-color="#00adff"/><stop offset="0.09791" stop-color="#04fffb"/><stop offset="0.1138" stop-color="#ccff33"/><stop offset="0.1184" stop-color="#fff500"/><stop offset="0.1252" stop-color="#ffb200"/><stop offset="0.1298" stop-color="#ffb100"/><stop offset="0.1412" stop-color="#fff600"/><stop offset="0.1457" stop-color="#e0ff1f"/><stop offset="0.1617" stop-color="#3dffc2"/><stop offset="0.1639" stop-color="#3effc1"/><stop offset="0.1708" stop-color="#00f9ff"/><stop offset="0.1799" stop-color="#0098ff"/><stop offset="0.1935" stop-color="#004aff"/><stop offset="0.2209" stop-color="#000cff"/><stop offset="0.3142" stop-color="#0022ff"/><stop offset="0.3711" stop-color="#004eff"/><stop offset="0.4212" stop-color="#0077ff"/><stop offset="0.4281" stop-color="#008eff"/><stop offset="0.4918" stop-color="#00dfff"/><stop offset="0.5692" stop-color="#0afff5"/><stop offset="0.6261" stop-color="#2fffd0"/><stop offset="0.6671" stop-color="#8aff75"/><stop offset="0.7263" stop-color="#a6ff59"/><stop offset="0.7901" stop-color="#f7ff08"/><stop offset="0.8402" stop-color="#b4ff4b"/><stop offset="0.8743" stop-color="#a2ff5d"/><stop offset="0.9176" stop-color="#86ff79"/><stop offset="0.9358" stop-color="#59ffa6"/><stop offset="0.9517" stop-color="#04fffb"/><stop offset="0.9586" stop-color="#00d9ff"/><stop offset="0.9699" stop-color="#003eff"/><stop offset="0.9722" stop-color="#0000d1"/><stop offset="0.9768" stop-color="#0000d1"/><stop offset="0.9791" stop-color="#0000b6"/><stop offset="0.9995" stop-color="#0000b6"/></linearGradient>
<linearGradient id="r30"><stop offset="0" stop-color="#0000d4"/><stop offset="0.05009" stop-color="#0000db"/><stop offset="0.06603" stop-color="#0009ff"/><stop offset="0.07969" stop-color="#0039ff"/><stop offset="0.0888" stop-color="#008eff"/><stop offset="0.09791" stop-color="#00ffff"/><stop offset="0.1138" stop-color="#c6ff39"/><stop offset="0.1184" stop-color="#fffd00"/><stop offset="0.1252" stop-color="#ffc200"/><stop offset="0.1298" stop-color="#ffc100"/><stop offset="0.1412" stop-color="#fffd00"/><stop offset="0.1617" stop-color="#3bffc4"/><stop offset="0.1639" stop-color="#39ffc6"/><stop offset="0.1708" stop-color="#00f4ff"/><stop offset="0.1799" stop-color="#0093ff"/><stop offset="0.1935" stop-color="#0045ff"/><stop offset="0.2209" stop-color="#0007ff"/><stop offset="0.3165" stop-color="#001bff"/><stop offset="0.3848" stop-color="#0049ff"/><stop offset="0.4235" stop-color="#006eff"/><stop offset="0.4918" stop-color="#00c1ff"/><stop offset="0.6261" stop-color="#08fff7"/><stop offset="0.6694" stop-color="#5bffa4"/><stop offset="0.7423" stop-color="#7eff81"/><stop offset="0.7901" stop-color="#b8ff47"/><stop offset="0.847" stop-color="#77ff88"/><stop offset="0.9176" stop-color="#54ffab"/><stop offset="0.9358" stop-color="#2dffd2"/><stop offset="0.9472" stop-color="#00faff"/><stop offset="0.9586" stop-color="#00bbff"/><stop offset="0.9699" stop-color="#0033ff"/><stop offset="0.9722" stop-color="#0000d1"/><stop offset="0.9768" stop-color="#0000d1"/><stop offset="0.9791" stop-color="#0000b9"/><stop offset="0.9995" stop-color="#0000b9"/></linearGradient>
<linearGradient id="r31"><stop offset="0" stop-color="#0000d3"/><stop offset="0.05237" stop-color="#0000de"/><stop offset="0.06603" stop-color="#0008ff"/><stop offset="0.07969" stop-color="#0036ff"/><stop offset="0.0888" stop-color="#008aff"/><stop offset="0.09791" stop-color="#00fbff"/><stop offset="0.1116" stop-color="#a0ff5f"/><stop offset="0.1184" stop-color="#faff05"/><stop offset="0.1252" stop-color="#ffd100"/><stop offset="0.1321" stop-color="#ffd900"/><stop offset="0.1412" stop-color="#faff05"/><stop offset="0.1617" stop-color="#38ffc7"/><stop offset="0.1639" stop-color="#37ffc8"/><stop offset="0.1685" stop-color="#0cfff3"/><stop offset="0.173" stop-color="#00d7ff"/><stop offset="0.1821" stop-color="#0080ff"/><stop offset="0.1958" stop-color="#003cff"/><stop offset="0.2209" stop-color="#0006ff"/><stop offset="0.3188" stop-color="#001cff"/><stop offset="0.4212" stop-color="#0063ff"/><stop offset="0.4303" stop-color="#0079ff"/><stop offset="0.4941" stop-color="#00bfff"/><stop offset="0.6284" stop-color="#07fff8"/><stop offset="0.6717" stop-color="#58ffa7"/><stop offset="0.7423" stop-color="#77ff88"/><stop offset="0.7901" stop-color="#b0ff4f"/><stop offset="0.847" stop-color="#70ff8f"/><stop offset="0.9176" stop-color="#4fffb0"/><stop offset="0.9358" stop-color="#28ffd7"/><stop offset="0.9449" stop-color="#00ffff"/><stop offset="0.9586" stop-color="#00b7ff"/><stop offset="0.9699" stop-color="#0032ff"/><stop offset="0.9722" stop-color="#0000d1"/><stop offset="0.9768" stop-color="#0000d1"/><stop offset="0.9791" stop-color="#0000ba"/><stop offset="0.9995" stop-color="#0000ba"/></linearGradient>
<linearGradient id="r32"><stop offset="0" stop-color="#0000d3"/><stop offset="0.05237" stop-color="#0000dd"/><stop offset="0.06603" stop-color="#0006ff"/><stop offset="0.07969" stop-color="#0034ff"/><stop offset="0.0888" stop-color="#0086ff"/><stop offset="0.09791" stop-color="#00f8ff"/><stop offset="0.1161" stop-color="#ceff31"/><stop offset="0.1207" stop-color="#fffe00"/><stop offset="0.1275" stop-color="#ffdd00"/><stop offset="0.1389" stop-color="#f6ff09"/><stop offset="0.1617" stop-color="#34ffcb"/><stop offset="0.1639" stop-color="#32ffcd"/><stop offset="0.1685" stop-color="#06fff9"/><stop offset="0.1799" stop-color="#008dff"/><stop offset="0.1935" stop-color="#0041ff"/><stop offset="0.2186" stop-color="#0004ff"/><stop offset="0.3188" stop-color="#0019ff"/><stop offset="0.4212" stop-color="#005cff"/><stop offset="0.4303" stop-color="#0071ff"/><stop offset="0.4941" stop-color="#00b3ff"/><stop offset="0.6261" stop-color="#00f3ff"/><stop offset="0.6421" stop-color="#13ffec"/><stop offset="0.674" stop-color="#48ffb7"/><stop offset="0.7423" stop-color="#63ff9c"/><stop offset="0.7901" stop-color="#99ff66"/><stop offset="0.8515" stop-color="#59ffa6"/><stop offset="0.9153" stop-color="#40ffbf"/><stop offset="0.9358" stop-color="#17ffe8"/><stop offset="0.9449" stop-color="#00f0ff"/><stop offset="0.9586" stop-color="#00adff"/><stop offset="0.9699" stop-color="#002dff"/><stop offset="0.9722" stop-color="#0000d1"/><stop offset="0.9768" stop-color="#0000d1"/><stop offset="0.9791" stop-color="#0000bb"/><stop offset="0.9995" stop-color="#0000bb"/></linearGradient>
<linearGradient id="r33"><stop offset="0" stop-color="#0000d3"/><stop offset="0.05237" stop-color="#0000dc"/><stop offset="0.06603" stop-color="#0005ff"/><stop offset="0.07969" stop-color="#0032ff"/><stop offset="0.0888" stop-color="#0082ff"/><stop offset="0.09791" stop-color="#00f4ff"/><stop offset="0.1047" stop-color="#42ffbd"/><stop offset="0.123" stop-color="#fffd00"/><stop offset="0.1275" stop-color="#ffec00"/><stop offset="0.1343" stop-color="#fcff03"/><stop offset="0.1594" stop-color="#43ffbc"/><stop offset="0.1617" stop-color="#2fffd0"/><stop offset="0.1639" stop-color="#2dffd2"/><stop offset="0.1685" stop-color="#01fffe"/><stop offset="0.1799" stop-color="#008aff"/><stop offset="0.1935" stop-color="#003fff"/><stop offset="0.2186" stop-color="#0003ff"/><stop offset="0.3188" stop-color="#0017ff"/><stop offset="0.4212" stop-color="#0059ff"/><stop offset="0.4303" stop-color="#006dff"/><stop offset="0.4941" stop-color="#00afff"/><stop offset="0.6261" stop-color="#00edff"/><stop offset="0.6421" stop-color="#0cfff3"/><stop offset="0.6762" stop-color="#42ffbd"/><stop offset="0.7423" stop-color="#5bffa4"/><stop offset="0.7901" stop-color="#90ff6f"/><stop offset="0.8538" stop-color="#4fffb0"/><stop offset="0.9153" stop-color="#39ffc6"/><stop offset="0.9358" stop-color="#11ffee"/><stop offset="0.9426" stop-color="#00f4ff"/><stop offset="0.9586" stop-color="#00a8ff"/><stop offset="0.9699" stop-color="#002bff"/><stop offset="0.9722" stop-color="#0000d1"/><stop offset="0.9768" stop-color="#0000d1"/><stop offset="0.9791" stop-color="#0000bb"/><stop offset="0.9995" stop-color="#0000bb"/></linearGradient>
<linearGradient id="r34"><stop offset="0" stop-color="#0000d2"/><stop offset="0.05237" stop-color="#0000dc"/><stop offset="0.06603" stop-color="#0004ff"/><stop offset="0.08197" stop-color="#003eff"/><stop offset="0.09107" stop-color="#0099ff"/><stop offset="0.09791" stop-color="#00f1ff"/><stop offset="0.1025" stop-color="#26ffd9"/><stop offset="0.123" stop-color="#f0ff0f"/><stop offset="0.1275" stop-color="#fffc00"/><stop offset="0.1343" stop-color="#e7ff18"/><stop offset="0.1548" stop-color="#63ff9c"/><stop offset="0.1617" stop-color="#2bffd4"/><stop offset="0.1639" stop-color="#28ffd7"/><stop offset="0.1685" stop-color="#00fbff"/><stop offset="0.1799" stop-color="#0087ff"/><stop offset="0.1935" stop-color="#003dff"/><stop offset="0.2186" stop-color="#0001ff"/><stop offset="0.3188" stop-color="#0015ff"/><stop offset="0.4212" stop-color="#0055ff"/><stop offset="0.4303" stop-color="#0069ff"/><stop offset="0.4941" stop-color="#00a9ff"/><stop offset="0.6261" stop-color="#00e6ff"/><stop offset="0.6444" stop-color="#09fff6"/><stop offset="0.6785" stop-color="#39ffc6"/><stop offset="0.7423" stop-color="#50ffaf"/><stop offset="0.7901" stop-color="#84ff7b"/><stop offset="0.8561" stop-color="#43ffbc"/><stop offset="0.9153" stop-color="#2fffd0"/><stop offset="0.9358" stop-color="#08fff7"/><stop offset="0.9517" stop-color="#00c4ff"/><stop offset="0.9586" stop-color="#00a2ff"/><stop offset="0.9699" stop-color="#0029ff"/><stop offset="0.9722" stop-color="#0000d1"/><stop offset="0.9768" stop-color="#0000d1"/><stop offset="0.9791" stop-color="#0000bb"/><stop offset="0.9995" stop-color="#0000bb"/></linearGradient>
<linearGradient id="r35"><stop offset="0" stop-color="#0000d2"/><stop offset="0.05237" stop-color="#0000db"/><stop offset="0.06831" stop-color="#000aff"/><stop offset="0.08197" stop-color="#003bff"/><stop offset="0.09107" stop-color="#0095ff"/><stop offset="0.09791" stop-color="#00eeff"/><stop offset="0.1002" stop-color="#09fff6"/><stop offset="0.1207" stop-color="#cdff32"/><stop offset="0.1275" stop-color="#f0ff0f"/><stop offset="0.1503" stop-color="#80ff7f"/><stop offset="0.1617" stop-color="#26ffd9"/><stop offset="0.1639" stop-color="#23ffdc"/><stop offset="0.1685" stop-color="#00f6ff"/><stop offset="0.1799" stop-color="#0084ff"/><stop offset="0.1935" stop-color="#003bff"/><stop offset="0.2186" stop-color="#0000ff"/><stop offset="0.3188" stop-color="#0013ff"/><stop offset="0.4212" stop-color="#0051ff"/><stop offset="0.4303" stop-color="#0064ff"/><stop offset="0.4964" stop-color="#00a2ff"/><stop offset="0.6261" stop-color="#00dcff"/><stop offset="0.6489" stop-color="#06fff9"/><stop offset="0.6831" stop-color="#2dffd2"/><stop offset="0.7423" stop-color="#42ffbd"/><stop offset="0.7901" stop-color="#74ff8b"/><stop offset="0.8561" stop-color="#35ffca"/><stop offset="0.9153" stop-color="#22ffdd"/><stop offset="0.9358" stop-color="#00fcff"/><stop offset="0.9586" stop-color="#009bff"/><stop offset="0.9699" stop-color="#0026ff"/><stop offset="0.9722" stop-color="#0000d0"/><stop offset="0.9768" stop-color="#0000d0"/><stop offset="0.9791" stop-color="#0000bc"/><stop offset="0.9995" stop-color="#0000bc"/></linearGradient>
<linearGradient id="r36"><stop offset="0" stop-color="#0000d1"/><stop offset="0.05237" stop-color="#0000da"/><stop offset="0.06831" stop-color="#0009ff"/><stop offset="0.08197" stop-color="#0038ff"/><stop offset="0.09107" stop-color="#0091ff"/><stop offset="0.1002" stop-color="#06fff9"/><stop offset="0.1184" stop-color="#afff50"/><stop offset="0.1252" stop-color="#dcff23"/><stop offset="0.1321" stop-color="#d3ff2c"/><stop offset="0.1526" stop-color="#6bff94"/><stop offset="0.1617" stop-color="#21ffde"/><stop offset="0.1639" stop-color="#1effe1"/><stop offset="0.1685" stop-color="#00f1ff"/><stop offset="0.1799" stop-color="#0083ff"/><stop offset="0.1935" stop-color="#003bff"/><stop offset="0.2186" stop-color="#0000ff"/><stop offset="0.3188" stop-color="#0014ff"/><stop offset="0.4212" stop-color="#0053ff"/><stop offset="0.4303" stop-color="#0067ff"/><stop offset="0.4964" stop-color="#00a6ff"/><stop offset="0.6261" stop-color="#00e2ff"/><stop offset="0.6466" stop-color="#09fff6"/><stop offset="0.6808" stop-color="#34ffcb"/><stop offset="0.7423" stop-color="#4bffb4"/><stop offset="0.7901" stop-color="#7eff81"/><stop offset="0.8561" stop-color="#3effc1"/><stop offset="0.9153" stop-color="#2affd5"/><stop offset="0.9381" stop-color="#00faff"/><stop offset="0.9586" stop-color="#009fff"/><stop offset="0.9699" stop-color="#0027ff"/><stop offset="0.9722" stop-color="#0000d0"/><stop offset="0.9768" stop-color="#0000d0"/><stop offset="0.9791" stop-color="#0000bc"/><stop offset="0.9995" stop-color="#0000bc"/></linearGradient>
<linearGradient id="r37"><stop offset="0" stop-color="#0000d1"/><stop offset="0.05237" stop-color="#0000da"/><stop offset="0.06831" stop-color="#0008ff"/><stop offset="0.08197" stop-color="#0036ff"/><stop offset="0.09107" stop-color="#008dff"/><stop offset="0.1002" stop-color="#03fffc"/><stop offset="0.1161" stop-color="#95ff6a"/><stop offset="0.1252" stop-color="#cdff32"/><stop offset="0.1321" stop-color="#c5ff3a"/><stop offset="0.1503" stop-color="#75ff8a"/><stop offset="0.1617" stop-color="#1dffe2"/><stop offset="0.1639" stop-color="#19ffe6"/><stop offset="0.1662" stop-color="#04fffb"/><stop offset="0.1799" stop-color="#0080ff"/><stop offset="0.1935" stop-color="#0039ff"/><stop offset="0.2163" stop-color="#0000fe"/><stop offset="0.3188" stop-color="#0012ff"/><stop offset="0.4212" stop-color="#0050ff"/><stop offset="0.4303" stop-color="#0063ff"/><stop offset="0.4964" stop-color="#00a1ff"/><stop offset="0.6261" stop-color="#00daff"/><stop offset="0.6512" stop-color="#0afff5"/><stop offset="0.6853" stop-color="#2dffd2"/><stop offset="0.7423" stop-color="#41ffbe"/><stop offset="0.7901" stop-color="#73ff8c"/><stop offset="0.8561" stop-color="#34ffcb"/><stop offset="0.9153" stop-color="#21ffde"/><stop offset="0.9358" stop-color="#00faff"/><stop offset="0.9586" stop-color="#009aff"/><stop offset="0.9699" stop-color="#0025ff"/><stop offset="0.9722" stop-color="#0000d0"/><stop offset="0.9768" stop-color="#0000d0"/><stop offset="0.9791" stop-color="#0000bc"/><stop offset="0.9995" stop-color="#0000bc"/></linearGradient>
<linearGradient id="r38"><stop offset="0" stop-color="#0000d1"/><stop offset="0.05237" stop-color="#0000d9"/><stop offset="0.06831" stop-color="#0007ff"/><stop offset="0.08197" stop-color="#0033ff"/><stop offset="0.09107" stop-color="#0088ff"/><stop offset="0.1002" stop-color="#00fbff"/><stop offset="0.1207" stop-color="#a4ff5b"/><stop offset="0.1275" stop-color="#bfff40"/><stop offset="0.148" stop-color="#6eff91"/><stop offset="0.1617" stop-color="#12ffed"/><stop offset="0.1662" stop-color="#00fbff"/><stop offset="0.1799" stop-color="#007dff"/><stop offset="0.1935" stop-color="#0037ff"/><stop offset="0.2163" stop-color="#0000fc"/><stop offset="0.3165" stop-color="#000dff"/><stop offset="0.4212" stop-color="#004aff"/><stop offset="0.4326" stop-color="#005dff"/><stop offset="0.4964" stop-color="#0097ff"/><stop offset="0.6261" stop-color="#00ceff"/><stop offset="0.658" stop-color="#06fff9"/><stop offset="0.6944" stop-color="#1fffe0"/><stop offset="0.7445" stop-color="#32ffcd"/><stop offset="0.7901" stop-color="#5fffa0"/><stop offset="0.8584" stop-color="#23ffdc"/><stop offset="0.9176" stop-color="#0efff1"/><stop offset="0.9335" stop-color="#00f5ff"/><stop offset="0.9586" stop-color="#0090ff"/><stop offset="0.9699" stop-color="#0021ff"/><stop offset="0.9722" stop-color="#0000d0"/><stop offset="0.9768" stop-color="#0000d0"/><stop offset="0.9791" stop-color="#0000bd"/><stop offset="0.9995" stop-color="#0000bd"/></linearGradient>
<linearGradient id="r39"><stop offset="0" stop-color="#0000d1"/><stop offset="0.05237" stop-color="#0000d9"/><stop offset="0.06831" stop-color="#0006ff"/><stop offset="0.08197" stop-color="#0031ff"/><stop offset="0.09107" stop-color="#0084ff"/><stop offset="0.1002" stop-color="#00f5ff"/><stop offset="0.1093" stop-color="#42ffbd"/><stop offset="0.1252" stop-color="#aaff55"/><stop offset="0.1343" stop-color="#9bff64"/><stop offset="0.1526" stop-color="#41ffbe"/><stop offset="0.1617" stop-color="#0afff5"/><stop offset="0.1662" stop-color="#00f4ff"/><stop offset="0.1799" stop-color="#007aff"/><stop offset="0.1935" stop-color="#0035ff"/><stop offset="0.214" stop-color="#0000fd"/><stop offset="0.3165" stop-color="#000bff"/><stop offset="0.4235" stop-color="#004dff"/><stop offset="0.4941" stop-color="#008fff"/><stop offset="0.6261" stop-color="#00c5ff"/><stop offset="0.6648" stop-color="#03fffc"/><stop offset="0.7468" stop-color="#27ffd8"/><stop offset="0.7901" stop-color="#51ffae"/><stop offset="0.8584" stop-color="#17ffe8"/><stop offset="0.9176" stop-color="#03fffc"/><stop offset="0.9358" stop-color="#00e2ff"/><stop offset="0.9586" stop-color="#008aff"/><stop offset="0.9699" stop-color="#001eff"/><stop offset="0.9722" stop-color="#0000d0"/><stop offset="0.9768" stop-color="#0000d0"/><stop offset="0.9791" stop-color="#0000be"/><stop offset="0.9995" stop-color="#0000be"/></linearGradient>
<linearGradient id="r40"><stop offset="0" stop-color="#0000d0"/><stop offset="0.05464" stop-color="#0000db"/><stop offset="0.06831" stop-color="#0005ff"/><stop offset="0.08197" stop-color="#0030ff"/><stop offset="0.09107" stop-color="#0080ff"/><stop offset="0.1002" stop-color="#00efff"/><stop offset="0.1025" stop-color="#06fff9"/><stop offset="0.1252" stop-color="#9cff63"/><stop offset="0.1343" stop-color="#8cff73"/><stop offset="0.1617" stop-color="#04fffb"/><stop offset="0.1639" stop-color="#01fffe"/><stop offset="0.1799" stop-color="#0078ff"/><stop offset="0.1935" stop-color="#0033ff"/><stop offset="0.214" stop-color="#0000fb"/><stop offset="0.3188" stop-color="#000bff"/><stop offset="0.4235" stop-color="#0048ff"/><stop offset="0.4964" stop-color="#0089ff"/><stop offset="0.6261" stop-color="#00bcff"/><stop offset="0.674" stop-color="#01fffe"/><stop offset="0.7445" stop-color="#18ffe7"/><stop offset="0.7901" stop-color="#43ffbc"/><stop offset="0.8584" stop-color="#0bfff4"/><stop offset="0.9176" stop-color="#00f6ff"/><stop offset="0.9381" stop-color="#00d1ff"/><stop offset="0.9586" stop-color="#0083ff"/><stop offset="0.9699" stop-color="#001bff"/><stop offset="0.9722" stop-color="#0000d0"/><stop offset="0.9768" stop-color="#0000d0"/><stop offset="0.9791" stop-color="#0000be"/><stop offset="0.9995" stop-color="#0000be"/></linearGradient>
<linearGradient id="r41"><stop offset="0" stop-color="#0000d0"/><stop offset="0.05464" stop-color="#0000db"/><stop offset="0.06831" stop-color="#0004ff"/><stop offset="0.08424" stop-color="#003bff"/><stop offset="0.09563" stop-color="#00b2ff"/><stop offset="0.1025" stop-color="#01fffe"/><stop offset="0.1252" stop-color="#8eff71"/><stop offset="0.1321" stop-color="#86ff79"/><stop offset="0.1617" stop-color="#00fdff"/><stop offset="0.1639" stop-color="#00faff"/><stop offset="0.1799" stop-color="#0076ff"/><stop offset="0.1913" stop-color="#0039ff"/><stop offset="0.214" stop-color="#0000fa"/><stop offset="0.3188" stop-color="#000aff"/><stop offset="0.4235" stop-color="#0047ff"/><stop offset="0.4964" stop-color="#0087ff"/><stop offset="0.6284" stop-color="#00bdff"/><stop offset="0.674" stop-color="#00fdff"/><stop offset="0.7445" stop-color="#15ffea"/><stop offset="0.7923" stop-color="#3dffc2"/><stop offset="0.8607" stop-color="#08fff7"/><stop offset="0.9153" stop-color="#00f7ff"/><stop offset="0.9381" stop-color="#00ceff"/><stop offset="0.9586" stop-color="#0081ff"/><stop offset="0.9699" stop-color="#001aff"/><stop offset="0.9722" stop-color="#0000d0"/><stop offset="0.9768" stop-color="#0000d0"/><stop offset="0.9791" stop-color="#0000be"/><stop offset="0.9995" stop-color="#0000be"/></linearGradient>
<linearGradient id="r42"><stop offset="0" stop-color="#0000d0"/><stop offset="0.05464" stop-color="#0000da"/><stop offset="0.07058" stop-color="#000aff"/><stop offset="0.08424" stop-color="#0038ff"/><stop offset="0.09563" stop-color="#00adff"/><stop offset="0.1025" stop-color="#00fbff"/><stop offset="0.1252" stop-color="#80ff7f"/><stop offset="0.1321" stop-color="#78ff87"/><stop offset="0.1617" stop-color="#00f7ff"/><stop offset="0.1639" stop-color="#00f4ff"/><stop offset="0.1821" stop-color="#0064ff"/><stop offset="0.1935" stop-color="#0030ff"/><stop offset="0.2117" stop-color="#0000fc"/><stop offset="0.321" stop-color="#0009ff"/><stop offset="0.4235" stop-color="#0043ff"/><stop offset="0.4964" stop-color="#0081ff"/><stop offset="0.6284" stop-color="#00b5ff"/><stop offset="0.6762" stop-color="#00f3ff"/><stop offset="0.7423" stop-color="#08fff7"/><stop offset="0.7923" stop-color="#30ffcf"/><stop offset="0.8584" stop-color="#00fcff"/><stop offset="0.9199" stop-color="#00e6ff"/><stop offset="0.9381" stop-color="#00c5ff"/><stop offset="0.9586" stop-color="#007bff"/><stop offset="0.9699" stop-color="#0018ff"/><stop offset="0.9722" stop-color="#0000d0"/><stop offset="0.9768" stop-color="#0000d0"/><stop offset="0.9791" stop-color="#0000bf"/><stop offset="0.9995" stop-color="#0000bf"/></linearGradient>
<linearGradient id="r43"><stop offset="0" stop-color="#0000cf"/><stop offset="0.05464" stop-color="#0000d9"/><stop offset="0.07058" stop-color="#0009ff"/><stop offset="0.08424" stop-color="#0035ff"/><stop offset="0.09563" stop-color="#00a8ff"/><stop offset="0.1025" stop-color="#00f7ff"/><stop offset="0.1252" stop-color="#74ff8b"/><stop offset="0.1343" stop-color="#62ff9d"/><stop offset="0.1594" stop-color="#01fffe"/><stop offset="0.1662" stop-color="#00dbff"/><stop offset="0.1844" stop-color="#0054ff"/><stop offset="0.2072" stop-color="#0006ff"/><stop offset="0.2391" stop-color="#0000f6"/><stop offset="0.3256" stop-color="#000aff"/><stop offset="0.4235" stop-color="#003fff"/><stop offset="0.4986" stop-color="#007bff"/><stop offset="0.6284" stop-color="#00acff"/><stop offset="0.6762" stop-color="#00e8ff"/><stop offset="0.7559" stop-color="#07fff8"/><stop offset="0.7923" stop-color="#23ffdc"/><stop offset="0.8424" stop-color="#00f9ff"/><stop offset="0.9221" stop-color="#00d9ff"/><stop offset="0.9403" stop-color="#00b5ff"/><stop offset="0.9586" stop-color="#0074ff"/><stop offset="0.9699" stop-color="#0015ff"/><stop offset="0.9722" stop-color="#0000d0"/><stop offset="0.9768" stop-color="#0000d0"/><stop offset="0.9791" stop-color="#0000bf"/><stop offset="0.9995" stop-color="#0000bf"/></linearGradient>
<linearGradient id="r44"><stop offset="0" stop-color="#0000cf"/><stop offset="0.05464" stop-color="#0000d9"/><stop offset="0.07058" stop-color="#0008ff"/><stop offset="0.08424" stop-color="#0033ff"/><stop offset="0.09335" stop-color="#0089ff"/><stop offset="0.1025" stop-color="#00f1ff"/><stop offset="0.107" stop-color="#12ffed"/><stop offset="0.1252" stop-color="#66ff99"/><stop offset="0.1343" stop-color="#55ffaa"/><stop offset="0.1594" stop-color="#00fcff"/><stop offset="0.1662" stop-color="#00d6ff"/><stop offset="0.1844" stop-color="#0051ff"/><stop offset="0.2072" stop-color="#0005ff"/><stop offset="0.2322" stop-color="#0000f5"/><stop offset="0.3256" stop-color="#0009ff"/><stop offset="0.4235" stop-color="#003cff"/><stop offset="0.4986" stop-color="#0078ff"/><stop offset="0.6284" stop-color="#00a8ff"/><stop offset="0.6762" stop-color="#00e3ff"/><stop offset="0.7468" stop-color="#00f9ff"/><stop offset="0.7923" stop-color="#1cffe3"/><stop offset="0.8333" stop-color="#00f9ff"/><stop offset="0.9221" stop-color="#00d4ff"/><stop offset="0.9403" stop-color="#00b0ff"/><stop offset="0.9586" stop-color="#0071ff"/><stop offset="0.9699" stop-color="#0014ff"/><stop offset="0.9722" stop-color="#0000d0"/><stop offset="0.9768" stop-color="#0000d0"/><stop offset="0.9791" stop-color="#0000c0"/><stop offset="0.9995" stop-color="#0000c0"/></linearGradient>
<linearGradient id="r45"><stop offset="0" stop-color="#0000cf"/><stop offset="0.05464" stop-color="#0000d8"/><stop offset="0.07058" stop-color="#0007ff"/><stop offset="0.08424" stop-color="#0031ff"/><stop offset="0.09335" stop-color="#0084ff"/><stop offset="0.1047" stop-color="#00ffff"/><stop offset="0.1252" stop-color="#57ffa8"/><stop offset="0.1389" stop-color="#3cffc3"/><stop offset="0.1594" stop-color="#00f7ff"/><stop offset="0.1662" stop-color="#00d1ff"/><stop offset="0.1867" stop-color="#0043ff"/><stop offset="0.2095" stop-color="#0000fb"/><stop offset="0.2505" stop-color="#0000f5"/><stop offset="0.3301" stop-color="#000aff"/><stop offset="0.4235" stop-color="#0039ff"/><stop offset="0.4986" stop-color="#0073ff"/><stop offset="0.6284" stop-color="#00a2ff"/><stop offset="0.6762" stop-color="#00dbff"/><stop offset="0.7468" stop-color="#00f1ff"/><stop offset="0.781" stop-color="#10ffef"/><stop offset="0.7969" stop-color="#0ffff0"/><stop offset="0.8288" stop-color="#00f4ff"/><stop offset="0.9221" stop-color="#00ccff"/><stop offset="0.9403" stop-color="#00aaff"/><stop offset="0.9608" stop-color="#005cff"/><stop offset="0.9699" stop-color="#0012ff"/><stop offset="0.9722" stop-color="#0000d0"/><stop offset="0.9768" stop-color="#0000d0"/><stop offset="0.9791" stop-color="#0000c0"/><stop offset="0.9995" stop-color="#0000c0"/></linearGradient>
<linearGradient id="r46"><stop offset="0" stop-color="#0000ce"/><stop offset="0.05464" stop-color="#0000d7"/><stop offset="0.07058" stop-color="#0005ff"/><stop offset="0.08652" stop-color="#003dff"/><stop offset="0.107" stop-color="#00ffff"/><stop offset="0.1252" stop-color="#4effb1"/><stop offset="0.1366" stop-color="#39ffc6"/><stop offset="0.1548" stop-color="#00feff"/><stop offset="0.1617" stop-color="#00d4ff"/><stop offset="0.1662" stop-color="#00c1ff"/><stop offset="0.189" stop-color="#0037ff"/><stop offset="0.2095" stop-color="#0000fa"/><stop offset="0.2755" stop-color="#0000f5"/><stop offset="0.3347" stop-color="#000bff"/><stop offset="0.4235" stop-color="#0036ff"/><stop offset="0.4986" stop-color="#006eff"/><stop offset="0.6284" stop-color="#009bff"/><stop offset="0.6762" stop-color="#00d3ff"/><stop offset="0.7491" stop-color="#00eaff"/><stop offset="0.7855" stop-color="#0afff5"/><stop offset="0.8311" stop-color="#00e9ff"/><stop offset="0.9221" stop-color="#00c5ff"/><stop offset="0.9403" stop-color="#00a3ff"/><stop offset="0.9608" stop-color="#0058ff"/><stop offset="0.9699" stop-color="#0010ff"/><stop offset="0.9722" stop-color="#0000d0"/><stop offset="0.9768" stop-color="#0000d0"/><stop offset="0.9813" stop-color="#0000c0"/><stop offset="0.9995" stop-color="#0000c0"/></linearGradient>
<linearGradient id="r47"><stop offset="0" stop-color="#0000ce"/><stop offset="0.05464" stop-color="#0000d7"/><stop offset="0.07058" stop-color="#0004ff"/><stop offset="0.08652" stop-color="#0039ff"/><stop offset="0.1093" stop-color="#00ffff"/><stop offset="0.1252" stop-color="#44ffbb"/><stop offset="0.1366" stop-color="#2fffd0"/><stop offset="0.1526" stop-color="#00f9ff"/><stop offset="0.1617" stop-color="#00c5ff"/><stop offset="0.1662" stop-color="#00b5ff"/><stop offset="0.189" stop-color="#0036ff"/><stop offset="0.2095" stop-color="#0000f8"/><stop offset="0.3074" stop-color="#0000fc"/><stop offset="0.4235" stop-color="#0034ff"/><stop offset="0.5009" stop-color="#006bff"/><stop offset="0.6284" stop-color="#0097ff"/><stop offset="0.6785" stop-color="#00ceff"/><stop offset="0.7491" stop-color="#00e4ff"/><stop offset="0.7923" stop-color="#02fffd"/><stop offset="0.872" stop-color="#00d4ff"/><stop offset="0.9221" stop-color="#00bfff"/><stop offset="0.9403" stop-color="#009fff"/><stop offset="0.9608" stop-color="#0055ff"/><stop offset="0.9699" stop-color="#000eff"/><stop offset="0.9722" stop-color="#0000d0"/><stop offset="0.9768" stop-color="#0000d0"/><stop offset="0.9813" stop-color="#0000c1"/><stop offset="0.9995" stop-color="#0000c1"/></linearGradient>
<linearGradient id="r48"><stop offset="0" stop-color="#0000ce"/><stop offset="0.05464" stop-color="#0000d6"/><stop offset="0.07286" stop-color="#000aff"/><stop offset="0.08652" stop-color="#0036ff"/><stop offset="0.1116" stop-color="#00ffff"/><stop offset="0.1252" stop-color="#3affc5"/><stop offset="0.1366" stop-color="#25ffda"/><stop offset="0.148" stop-color="#00ffff"/><stop offset="0.1617" stop-color="#00b9ff"/><stop offset="0.1685" stop-color="#00a0ff"/><stop offset="0.189" stop-color="#0034ff"/><stop offset="0.2072" stop-color="#0000fc"/><stop offset="0.2231" stop-color="#0000f0"/><stop offset="0.337" stop-color="#0009ff"/><stop offset="0.4235" stop-color="#002fff"/><stop offset="0.5009" stop-color="#0064ff"/><stop offset="0.6284" stop-color="#008eff"/><stop offset="0.6785" stop-color="#00c2ff"/><stop offset="0.7491" stop-color="#00d7ff"/><stop offset="0.7923" stop-color="#00f3ff"/><stop offset="0.8698" stop-color="#00c8ff"/><stop offset="0.9244" stop-color="#00b2ff"/><stop offset="0.9426" stop-color="#008fff"/><stop offset="0.9608" stop-color="#004fff"/><stop offset="0.9699" stop-color="#000bff"/><stop offset="0.9722" stop-color="#0000cf"/><stop offset="0.9768" stop-color="#0000cf"/><stop offset="0.9813" stop-color="#0000c1"/><stop offset="0.9995" stop-color="#0000c1"/></linearGradient>
<linearGradient id="r49"><stop offset="0" stop-color="#0000ce"/><stop offset="0.05692" stop-color="#0000d9"/><stop offset="0.07286" stop-color="#0009ff"/><stop offset="0.08652" stop-color="#0033ff"/><stop offset="0.1138" stop-color="#00ffff"/><stop offset="0.1252" stop-color="#31ffce"/><stop offset="0.1366" stop-color="#1bffe4"/><stop offset="0.1457" stop-color="#00fbff"/><stop offset="0.1617" stop-color="#00afff"/><stop offset="0.1685" stop-color="#009aff"/><stop offset="0.189" stop-color="#0032ff"/><stop offset="0.2072" stop-color="#0000fa"/><stop offset="0.2254" stop-color="#0000ef"/><stop offset="0.337" stop-color="#0008ff"/><stop offset="0.4235" stop-color="#002eff"/><stop offset="0.5032" stop-color="#0062ff"/><stop offset="0.6284" stop-color="#008bff"/><stop offset="0.6785" stop-color="#00bfff"/><stop offset="0.7514" stop-color="#00d5ff"/><stop offset="0.7923" stop-color="#00efff"/><stop offset="0.8698" stop-color="#00c5ff"/><stop offset="0.9244" stop-color="#00aeff"/><stop offset="0.9426" stop-color="#008cff"/><stop offset="0.9608" stop-color="#004dff"/><stop offset="0.9699" stop-color="#000aff"/><stop offset="0.9722" stop-color="#0000cf"/><stop offset="0.9768" stop-color="#0000cf"/><stop offset="0.9813" stop-color="#0000c1"/><stop offset="0.9995" stop-color="#0000c1"/></linearGradient>
<linearGradient id="r50"><stop offset="0" stop-color="#0000cd"/><stop offset="0.05692" stop-color="#0000d8"/><stop offset="0.07286" stop-color="#0007ff"/><stop offset="0.0888" stop-color="#003eff"/><stop offset="0.1161" stop-color="#00ffff"/><stop offset="0.1252" stop-color="#27ffd8"/><stop offset="0.1366" stop-color="#10ffef"/><stop offset="0.1434" stop-color="#00f7ff"/><stop offset="0.1617" stop-color="#00a7ff"/><stop offset="0.1685" stop-color="#0095ff"/><stop offset="0.189" stop-color="#0031ff"/><stop offset="0.2072" stop-color="#0000f9"/><stop offset="0.2277" stop-color="#0000ee"/><stop offset="0.3393" stop-color="#0008ff"/><stop offset="0.4235" stop-color="#002cff"/><stop offset="0.5032" stop-color="#005fff"/><stop offset="0.6307" stop-color="#008aff"/><stop offset="0.6785" stop-color="#00baff"/><stop offset="0.7514" stop-color="#00cfff"/><stop offset="0.7923" stop-color="#00e9ff"/><stop offset="0.8698" stop-color="#00c0ff"/><stop offset="0.9244" stop-color="#00aaff"/><stop offset="0.9449" stop-color="#0083ff"/><stop offset="0.9608" stop-color="#004aff"/><stop offset="0.9699" stop-color="#0009ff"/><stop offset="0.9722" stop-color="#0000cf"/><stop offset="0.9768" stop-color="#0000cf"/><stop offset="0.9813" stop-color="#0000c2"/><stop offset="0.9995" stop-color="#0000c2"/></linearGradient>
<linearGradient id="r51"><stop offset="0" stop-color="#0000cd"/><stop offset="0.05692" stop-color="#0000d8"/><stop offset="0.07286" stop-color="#0006ff"/><stop offset="0.0888" stop-color="#003bff"/><stop offset="0.1184" stop-color="#00ffff"/><stop offset="0.1275" stop-color="#1effe1"/><stop offset="0.1412" stop-color="#00f4ff"/><stop offset="0.1617" stop-color="#00a1ff"/><stop offset="0.1685" stop-color="#0090ff"/><stop offset="0.1913" stop-color="#0028ff"/><stop offset="0.2072" stop-color="#0000f7"/><stop offset="0.23" stop-color="#0000ed"/><stop offset="0.3461" stop-color="#0009ff"/><stop offset="0.4235" stop-color="#0029ff"/><stop offset="0.5032" stop-color="#005bff"/><stop offset="0.6307" stop-color="#0084ff"/><stop offset="0.6808" stop-color="#00b3ff"/><stop offset="0.7514" stop-color="#00c7ff"/><stop offset="0.7923" stop-color="#00e0ff"/><stop offset="0.872" stop-color="#00b8ff"/><stop offset="0.9244" stop-color="#00a3ff"/><stop offset="0.9449" stop-color="#007dff"/><stop offset="0.9608" stop-color="#0046ff"/><stop offset="0.9699" stop-color="#0007ff"/><stop offset="0.9722" stop-color="#0000cf"/><stop offset="0.9768" stop-color="#0000cf"/><stop offset="0.9813" stop-color="#0000c2"/><stop offset="0.9995" stop-color="#0000c2"/></linearGradient>
<linearGradient id="r52"><stop offset="0" stop-color="#0000cd"/><stop offset="0.05692" stop-color="#0000d7"/><stop offset="0.07286" stop-color="#0005ff"/><stop offset="0.0888" stop-color="#0038ff"/><stop offset="0.1184" stop-color="#00f3ff"/><stop offset="0.123" stop-color="#0bfff4"/><stop offset="0.1298" stop-color="#10ffef"/><stop offset="0.1389" stop-color="#00f0ff"/><stop offset="0.1617" stop-color="#009bff"/><stop offset="0.1685" stop-color="#008cff"/><stop offset="0.1913" stop-color="#0027ff"/><stop offset="0.2072" stop-color="#0000f5"/><stop offset="0.2368" stop-color="#0000ed"/><stop offset="0.3552" stop-color="#0009ff"/><stop offset="0.4235" stop-color="#0026ff"/><stop offset="0.5055" stop-color="#0057ff"/><stop offset="0.6307" stop-color="#007fff"/><stop offset="0.6808" stop-color="#00acff"/><stop offset="0.7536" stop-color="#00c2ff"/><stop offset="0.7923" stop-color="#00d9ff"/><stop offset="0.8743" stop-color="#00b1ff"/><stop offset="0.9267" stop-color="#009bff"/><stop offset="0.9517" stop-color="#0065ff"/><stop offset="0.9608" stop-color="#0043ff"/><stop offset="0.9699" stop-color="#0006ff"/><stop offset="0.9722" stop-color="#0000cf"/><stop offset="0.9768" stop-color="#0000cf"/><stop offset="0.9813" stop-color="#0000c2"/><stop offset="0.9995" stop-color="#0000c2"/></linearGradient>
<linearGradient id="r53"><stop offset="0" stop-color="#0000cd"/><stop offset="0.05692" stop-color="#0000d6"/><stop offset="0.07286" stop-color="#0004ff"/><stop offset="0.0888" stop-color="#0036ff"/><stop offset="0.1161" stop-color="#00daff"/><stop offset="0.123" stop-color="#00feff"/><stop offset="0.1298" stop-color="#05fffa"/><stop offset="0.1617" stop-color="#0097ff"/><stop offset="0.1685" stop-color="#0088ff"/><stop offset="0.1913" stop-color="#0025ff"/><stop offset="0.2049" stop-color="#0000fa"/><stop offset="0.2186" stop-color="#0000eb"/><stop offset="0.3643" stop-color="#000aff"/><stop offset="0.4235" stop-color="#0023ff"/><stop offset="0.5055" stop-color="#0053ff"/><stop offset="0.6307" stop-color="#0079ff"/><stop offset="0.6808" stop-color="#00a6ff"/><stop offset="0.7536" stop-color="#00baff"/><stop offset="0.7923" stop-color="#00d0ff"/><stop offset="0.8743" stop-color="#00aaff"/><stop offset="0.9267" stop-color="#0094ff"/><stop offset="0.9517" stop-color="#0060ff"/><stop offset="0.9608" stop-color="#003fff"/><stop offset="0.9699" stop-color="#0004ff"/><stop offset="0.9722" stop-color="#0000cf"/><stop offset="0.9768" stop-color="#0000cf"/><stop offset="0.9813" stop-color="#0000c3"/><stop offset="0.9995" stop-color="#0000c3"/></linearGradient>
<linearGradient id="r54"><stop offset="0" stop-color="#0000cc"/><stop offset="0.05692" stop-color="#0000d6"/><stop offset="0.07514" stop-color="#0009ff"/><stop offset="0.09107" stop-color="#0040ff"/><stop offset="0.1138" stop-color="#00c5ff"/><stop offset="0.1252" stop-color="#00faff"/><stop offset="0.1343" stop-color="#00ebff"/><stop offset="0.1617" stop-color="#0093ff"/><stop offset="0.1685" stop-color="#0084ff"/><stop offset="0.1913" stop-color="#0023ff"/><stop offset="0.2049" stop-color="#0000f8"/><stop offset="0.2186" stop-color="#0000ea"/><stop offset="0.3711" stop-color="#0009ff"/><stop offset="0.4394" stop-color="#002dff"/><stop offset="0.5168" stop-color="#0052ff"/><stop offset="0.6307" stop-color="#0074ff"/><stop offset="0.6831" stop-color="#00a0ff"/><stop offset="0.7559" stop-color="#00b5ff"/><stop offset="0.7946" stop-color="#00c7ff"/><stop offset="0.8743" stop-color="#00a4ff"/><stop offset="0.9267" stop-color="#008fff"/><stop offset="0.954" stop-color="#0056ff"/><stop offset="0.9631" stop-color="#002eff"/><stop offset="0.9699" stop-color="#0002ff"/><stop offset="0.9722" stop-color="#0000cf"/><stop offset="0.9768" stop-color="#0000cf"/><stop offset="0.9813" stop-color="#0000c3"/><stop offset="0.9995" stop-color="#0000c3"/></linearGradient>
<linearGradient id="r55"><stop offset="0" stop-color="#0000cc"/><stop offset="0.05692" stop-color="#0000d5"/><stop offset="0.07514" stop-color="#0008ff"/><stop offset="0.09107" stop-color="#003dff"/><stop offset="0.1138" stop-color="#00bdff"/><stop offset="0.1252" stop-color="#00f0ff"/><stop offset="0.1366" stop-color="#00dbff"/><stop offset="0.1617" stop-color="#008fff"/><stop offset="0.1685" stop-color="#0080ff"/><stop offset="0.1935" stop-color="#001aff"/><stop offset="0.2049" stop-color="#0000f6"/><stop offset="0.2209" stop-color="#0000e9"/><stop offset="0.3825" stop-color="#000aff"/><stop offset="0.4622" stop-color="#0037ff"/><stop offset="0.633" stop-color="#006eff"/><stop offset="0.6853" stop-color="#0096ff"/><stop offset="0.7582" stop-color="#00aaff"/><stop offset="0.7946" stop-color="#00bbff"/><stop offset="0.8766" stop-color="#0099ff"/><stop offset="0.929" stop-color="#0083ff"/><stop offset="0.9586" stop-color="#0042ff"/><stop offset="0.9699" stop-color="#0000ff"/><stop offset="0.9722" stop-color="#0000cf"/><stop offset="0.9768" stop-color="#0000cf"/><stop offset="0.9813" stop-color="#0000c3"/><stop offset="0.9995" stop-color="#0000c3"/></linearGradient>
<linearGradient id="r56"><stop offset="0" stop-color="#0000cc"/><stop offset="0.05692" stop-color="#0000d5"/><stop offset="0.07514" stop-color="#0007ff"/><stop offset="0.09107" stop-color="#003aff"/><stop offset="0.1161" stop-color="#00c1ff"/><stop offset="0.1275" stop-color="#00e9ff"/><stop offset="0.1685" stop-color="#007aff"/><stop offset="0.1958" stop-color="#0012ff"/><stop offset="0.2072" stop-color="#0000ee"/><stop offset="0.321" stop-color="#0000f4"/><stop offset="0.4053" stop-color="#0010ff"/><stop offset="0.5077" stop-color="#0047ff"/><stop offset="0.6307" stop-color="#0069ff"/><stop offset="0.6831" stop-color="#0092ff"/><stop offset="0.7582" stop-color="#00a6ff"/><stop offset="0.7946" stop-color="#00b7ff"/><stop offset="0.8766" stop-color="#0095ff"/><stop offset="0.929" stop-color="#0080ff"/><stop offset="0.9586" stop-color="#0040ff"/><stop offset="0.9699" stop-color="#0000fe"/><stop offset="0.9722" stop-color="#0000cf"/><stop offset="0.9927" stop-color="#0000c3"/><stop offset="0.9995" stop-color="#0000c3"/></linearGradient>
<linearGradient id="r57"><stop offset="0" stop-color="#0000cc"/><stop offset="0.0592" stop-color="#0000d8"/><stop offset="0.07514" stop-color="#0006ff"/><stop offset="0.09335" stop-color="#0043ff"/><stop offset="0.1207" stop-color="#00ceff"/><stop offset="0.1275" stop-color="#00e0ff"/><stop offset="0.1685" stop-color="#0074ff"/><stop offset="0.2004" stop-color="#0002ff"/><stop offset="0.214" stop-color="#0000e6"/><stop offset="0.3962" stop-color="#0009ff"/><stop offset="0.51" stop-color="#0042ff"/><stop offset="0.633" stop-color="#0063ff"/><stop offset="0.6876" stop-color="#0088ff"/><stop offset="0.7605" stop-color="#009dff"/><stop offset="0.7946" stop-color="#00aaff"/><stop offset="0.8789" stop-color="#008bff"/><stop offset="0.9312" stop-color="#0075ff"/><stop offset="0.9608" stop-color="#002fff"/><stop offset="0.9699" stop-color="#0000fb"/><stop offset="0.9722" stop-color="#0000cf"/><stop offset="0.995" stop-color="#0000c4"/><stop offset="0.9995" stop-color="#0000c4"/></linearGradient>
<linearGradient id="r58"><stop offset="0" stop-color="#0000cb"/><stop offset="0.0592" stop-color="#0000d7"/><stop offset="0.07514" stop-color="#0005ff"/><stop offset="0.09335" stop-color="#0040ff"/><stop offset="0.1207" stop-color="#00c6ff"/><stop offset="0.1275" stop-color="#00d7ff"/><stop offset="0.1685" stop-color="#006fff"/><stop offset="0.2004" stop-color="#0000ff"/><stop offset="0.214" stop-color="#0000e6"/><stop offset="0.4007" stop-color="#0009ff"/><stop offset="0.5123" stop-color="#003fff"/><stop offset="0.633" stop-color="#0060ff"/><stop offset="0.6876" stop-color="#0084ff"/><stop offset="0.7605" stop-color="#0098ff"/><stop offset="0.7946" stop-color="#00a5ff"/><stop offset="0.8789" stop-color="#0086ff"/><stop offset="0.9312" stop-color="#0071ff"/><stop offset="0.9608" stop-color="#002dff"/><stop offset="0.9699" stop-color="#0000fa"/><stop offset="0.9722" stop-color="#0000cf"/><stop offset="0.995" stop-color="#0000c4"/><stop offset="0.9995" stop-color="#0000c4"/></linearGradient>
<linearGradient id="r59"><stop offset="0" stop-color="#0000cb"/><stop offset="0.0592" stop-color="#0000d6"/><stop offset="0.07514" stop-color="#0004ff"/><stop offset="0.09335" stop-color="#003dff"/><stop offset="0.123" stop-color="#00c7ff"/><stop offset="0.1321" stop-color="#00c7ff"/><stop offset="0.1708" stop-color="#0062ff"/><stop offset="0.2004" stop-color="#0000fd"/><stop offset="0.214" stop-color="#0000e5"/><stop offset="0.4053" stop-color="#0009ff"/><stop offset="0.5123" stop-color="#003bff"/><stop offset="0.633" stop-color="#0059ff"/><stop offset="0.6899" stop-color="#007dff"/><stop offset="0.7628" stop-color="#0090ff"/><stop offset="0.7946" stop-color="#009cff"/><stop offset="0.8811" stop-color="#007eff"/><stop offset="0.9335" stop-color="#0068ff"/><stop offset="0.9608" stop-color="#0029ff"/><stop offset="0.9699" stop-color="#0000f8"/><stop offset="0.9722" stop-color="#0000cf"/><stop offset="0.9995" stop-color="#0000c5"/></linearGradient>
<linearGradient id="r60"><stop offset="0" stop-color="#0000cb"/><stop offset="0.0592" stop-color="#0000d6"/><stop offset="0.07741" stop-color="#0009ff"/><stop offset="0.09563" stop-color="#0046ff"/><stop offset="0.123" stop-color="#00bfff"/><stop offset="0.1321" stop-color="#00c0ff"/><stop offset="0.1708" stop-color="#005fff"/><stop offset="0.2004" stop-color="#0000fc"/><stop offset="0.214" stop-color="#0000e4"/><stop offset="0.4076" stop-color="#0009ff"/><stop offset="0.5123" stop-color="#0039ff"/><stop offset="0.633" stop-color="#0058ff"/><stop offset="0.6899" stop-color="#007bff"/><stop offset="0.765" stop-color="#008fff"/><stop offset="0.7969" stop-color="#0098ff"/><stop offset="0.8834" stop-color="#007cff"/><stop offset="0.9335" stop-color="#0066ff"/><stop offset="0.9608" stop-color="#0028ff"/><stop offset="0.9699" stop-color="#0000f7"/><stop offset="0.9722" stop-color="#0000cf"/><stop offset="0.9995" stop-color="#0000c5"/></linearGradient>
<linearGradient id="r61"><stop offset="0" stop-color="#0000cb"/><stop offset="0.0592" stop-color="#0000d5"/><stop offset="0.07741" stop-color="#0008ff"/><stop offset="0.09791" stop-color="#004eff"/><stop offset="0.1252" stop-color="#00beff"/><stop offset="0.1434" stop-color="#00a0ff"/><stop offset="0.173" stop-color="#0054ff"/><stop offset="0.2004" stop-color="#0000fa"/><stop offset="0.2117" stop-color="#0000e3"/><stop offset="0.3825" stop-color="#0000fe"/><stop offset="0.5214" stop-color="#0037ff"/><stop offset="0.6352" stop-color="#0055ff"/><stop offset="0.6922" stop-color="#0075ff"/><stop offset="0.7673" stop-color="#008bff"/><stop offset="0.7969" stop-color="#0092ff"/><stop offset="0.8834" stop-color="#0077ff"/><stop offset="0.9335" stop-color="#0061ff"/><stop offset="0.9608" stop-color="#0025ff"/><stop offset="0.9699" stop-color="#0000f6"/><stop offset="0.9722" stop-color="#0000ce"/><stop offset="0.9995" stop-color="#0000c5"/></linearGradient>
<linearGradient id="r62"><stop offset="0" stop-color="#0000cb"/><stop offset="0.0592" stop-color="#0000d4"/><stop offset="0.07741" stop-color="#0007ff"/><stop offset="0.09791" stop-color="#004bff"/><stop offset="0.1252" stop-color="#00b8ff"/><stop offset="0.148" stop-color="#0091ff"/><stop offset="0.1799" stop-color="#003bff"/><stop offset="0.2004" stop-color="#0000f8"/><stop offset="0.2117" stop-color="#0000e2"/><stop offset="0.3916" stop-color="#0000fe"/><stop offset="0.5214" stop-color="#0033ff"/><stop offset="0.6352" stop-color="#004fff"/><stop offset="0.6944" stop-color="#006eff"/><stop offset="0.7696" stop-color="#0083ff"/><stop offset="0.7992" stop-color="#0087ff"/><stop offset="0.8971" stop-color="#006cff"/><stop offset="0.9381" stop-color="#0052ff"/><stop offset="0.9608" stop-color="#0021ff"/><stop offset="0.9677" stop-color="#0001ff"/><stop offset="0.9699" stop-color="#0000f4"/><stop offset="0.9722" stop-color="#0000ce"/><stop offset="0.9995" stop-color="#0000c5"/></linearGradient>
<linearGradient id="r63"><stop offset="0" stop-color="#0000ca"/><stop offset="0.0592" stop-color="#0000d4"/><stop offset="0.07741" stop-color="#0006ff"/><stop offset="0.1002" stop-color="#0052ff"/><stop offset="0.1252" stop-color="#00b1ff"/><stop offset="0.1526" stop-color="#0083ff"/><stop offset="0.2004" stop-color="#0000f7"/><stop offset="0.2117" stop-color="#0000e1"/><stop offset="0.3962" stop-color="#0000fe"/><stop offset="0.5214" stop-color="#0030ff"/><stop offset="0.6352" stop-color="#004cff"/><stop offset="0.6944" stop-color="#006bff"/><stop offset="0.7719" stop-color="#0081ff"/><stop offset="0.7992" stop-color="#0084ff"/><stop offset="0.9016" stop-color="#0068ff"/><stop offset="0.9403" stop-color="#004cff"/><stop offset="0.9608" stop-color="#001fff"/><stop offset="0.9677" stop-color="#0000fe"/><stop offset="0.9699" stop-color="#0000f3"/><stop offset="0.9722" stop-color="#0000ce"/><stop offset="0.9995" stop-color="#0000c5"/></linearGradient>
<linearGradient id="r64"><stop offset="0" stop-color="#0000ca"/><stop offset="0.0592" stop-color="#0000d3"/><stop offset="0.07741" stop-color="#0005ff"/><stop offset="0.1002" stop-color="#004fff"/><stop offset="0.1252" stop-color="#00aaff"/><stop offset="0.1526" stop-color="#0080ff"/><stop offset="0.1981" stop-color="#0000fc"/><stop offset="0.2117" stop-color="#0000e0"/><stop offset="0.4007" stop-color="#0000fd"/><stop offset="0.526" stop-color="#002cff"/><stop offset="0.6375" stop-color="#0047ff"/><stop offset="0.6967" stop-color="#0063ff"/><stop offset="0.7764" stop-color="#0079ff"/><stop offset="0.8106" stop-color="#0074ff"/><stop offset="0.9335" stop-color="#0050ff"/><stop offset="0.9608" stop-color="#001bff"/><stop offset="0.9699" stop-color="#0000f1"/><stop offset="0.9722" stop-color="#0000ce"/><stop offset="0.9995" stop-color="#0000c6"/></linearGradient>
<linearGradient id="r65"><stop offset="0" stop-color="#0000ca"/><stop offset="0.06148" stop-color="#0000d7"/><stop offset="0.07741" stop-color="#0004ff"/><stop offset="0.1025" stop-color="#0055ff"/><stop offset="0.1252" stop-color="#00a4ff"/><stop offset="0.1548" stop-color="#0076ff"/><stop offset="0.1981" stop-color="#0000fa"/><stop offset="0.2117" stop-color="#0000e0"/><stop offset="0.403" stop-color="#0000fc"/><stop offset="0.5328" stop-color="#002aff"/><stop offset="0.6375" stop-color="#0043ff"/><stop offset="0.699" stop-color="#005eff"/><stop offset="0.7832" stop-color="#0078ff"/><stop offset="0.9335" stop-color="#004cff"/><stop offset="0.9608" stop-color="#0018ff"/><stop offset="0.9699" stop-color="#0000f0"/><stop offset="0.9722" stop-color="#0000ce"/><stop offset="0.9995" stop-color="#0000c6"/></linearGradient>
<linearGradient id="r66"><stop offset="0" stop-color="#0000ca"/><stop offset="0.06148" stop-color="#0000d6"/><stop offset="0.07969" stop-color="#0007ff"/><stop offset="0.1047" stop-color="#0056ff"/><stop offset="0.1252" stop-color="#009bff"/><stop offset="0.1503" stop-color="#0077ff"/><stop offset="0.1958" stop-color="#0000fd"/><stop offset="0.2095" stop-color="#0000df"/><stop offset="0.403" stop-color="#0000fa"/><stop offset="0.5442" stop-color="#0028ff"/><stop offset="0.6375" stop-color="#003fff"/><stop offset="0.699" stop-color="#0059ff"/><stop offset="0.7855" stop-color="#0072ff"/><stop offset="0.9335" stop-color="#0047ff"/><stop offset="0.9608" stop-color="#0016ff"/><stop offset="0.9677" stop-color="#0000f9"/><stop offset="0.9699" stop-color="#0000ef"/><stop offset="0.9722" stop-color="#0000ce"/><stop offset="0.9995" stop-color="#0000c6"/></linearGradient>
<linearGradient id="r67"><stop offset="0" stop-color="#0000ca"/><stop offset="0.06148" stop-color="#0000d5"/><stop offset="0.08197" stop-color="#0009ff"/><stop offset="0.107" stop-color="#0053ff"/><stop offset="0.1252" stop-color="#0091ff"/><stop offset="0.1457" stop-color="#0074ff"/><stop offset="0.1958" stop-color="#0000f8"/><stop offset="0.2117" stop-color="#0000de"/><stop offset="0.4121" stop-color="#0000fb"/><stop offset="0.5487" stop-color="#0025ff"/><stop offset="0.6398" stop-color="#003bff"/><stop offset="0.7036" stop-color="#0053ff"/><stop offset="0.7992" stop-color="#0067ff"/><stop offset="0.9335" stop-color="#0042ff"/><stop offset="0.9608" stop-color="#0012ff"/><stop offset="0.9677" stop-color="#0000f7"/><stop offset="0.9699" stop-color="#0000ed"/><stop offset="0.9722" stop-color="#0000ce"/><stop offset="0.9995" stop-color="#0000c6"/></linearGradient>
<linearGradient id="r68"><stop offset="0" stop-color="#0000c9"/><stop offset="0.06148" stop-color="#0000d4"/><stop offset="0.08197" stop-color="#0005ff"/><stop offset="0.1093" stop-color="#0051ff"/><stop offset="0.1275" stop-color="#0089ff"/><stop offset="0.1935" stop-color="#0000f9"/><stop offset="0.2117" stop-color="#0000de"/><stop offset="0.4144" stop-color="#0000fa"/><stop offset="0.5624" stop-color="#0024ff"/><stop offset="0.6421" stop-color="#003aff"/><stop offset="0.7081" stop-color="#0050ff"/><stop offset="0.7992" stop-color="#0063ff"/><stop offset="0.9335" stop-color="#003eff"/><stop offset="0.9608" stop-color="#0010ff"/><stop offset="0.9677" stop-color="#0000f5"/><stop offset="0.9699" stop-color="#0000ec"/><stop offset="0.9722" stop-color="#0000ce"/><stop offset="0.9995" stop-color="#0000c7"/></linearGradient>
<linearGradient id="r69"><stop offset="0" stop-color="#0000c9"/><stop offset="0.06148" stop-color="#0000d3"/><stop offset="0.08424" stop-color="#0006ff"/><stop offset="0.1116" stop-color="#004fff"/><stop offset="0.1275" stop-color="#007fff"/><stop offset="0.1913" stop-color="#0000fa"/><stop offset="0.2095" stop-color="#0000dd"/><stop offset="0.4167" stop-color="#0000f9"/><stop offset="0.5965" stop-color="#0028ff"/><stop offset="0.6512" stop-color="#003dff"/><stop offset="0.7992" stop-color="#005fff"/><stop offset="0.9335" stop-color="#003bff"/><stop offset="0.9631" stop-color="#0006ff"/><stop offset="0.9699" stop-color="#0000eb"/><stop offset="0.9722" stop-color="#0000ce"/><stop offset="0.9995" stop-color="#0000c7"/></linearGradient>
<linearGradient id="r70"><stop offset="0" stop-color="#0000c9"/><stop offset="0.06375" stop-color="#0000d6"/><stop offset="0.08652" stop-color="#0008ff"/><stop offset="0.1138" stop-color="#004dff"/><stop offset="0.1275" stop-color="#0074ff"/><stop offset="0.189" stop-color="#0000fb"/><stop offset="0.2095" stop-color="#0000dc"/><stop offset="0.4212" stop-color="#0000f8"/><stop offset="0.6421" stop-color="#0031ff"/><stop offset="0.7149" stop-color="#0045ff"/><stop offset="0.7992" stop-color="#0056ff"/><stop offset="0.9358" stop-color="#0032ff"/><stop offset="0.9654" stop-color="#0000fa"/><stop offset="0.9699" stop-color="#0000e9"/><stop offset="0.9722" stop-color="#0000ce"/><stop offset="0.9995" stop-color="#0000c7"/></linearGradient>
<linearGradient id="r71"><stop offset="0" stop-color="#0000c9"/><stop offset="0.06375" stop-color="#0000d5"/><stop offset="0.0888" stop-color="#0009ff"/><stop offset="0.1161" stop-color="#004bff"/><stop offset="0.1275" stop-color="#0069ff"/><stop offset="0.1867" stop-color="#0000fb"/><stop offset="0.2095" stop-color="#0000db"/><stop offset="0.4212" stop-color="#0000f7"/><stop offset="0.6079" stop-color="#0021ff"/><stop offset="0.7058" stop-color="#0041ff"/><stop offset="0.8015" stop-color="#0052ff"/><stop offset="0.9358" stop-color="#002fff"/><stop offset="0.9654" stop-color="#0000f9"/><stop offset="0.9699" stop-color="#0000e9"/><stop offset="0.9722" stop-color="#0000ce"/><stop offset="0.9995" stop-color="#0000c7"/></linearGradient>
<linearGradient id="r72"><stop offset="0" stop-color="#0000c9"/><stop offset="0.06375" stop-color="#0000d5"/><stop offset="0.0888" stop-color="#0006ff"/><stop offset="0.1184" stop-color="#0049ff"/><stop offset="0.1275" stop-color="#005eff"/><stop offset="0.1844" stop-color="#0000fc"/><stop offset="0.2095" stop-color="#0000db"/><stop offset="0.4212" stop-color="#0000f4"/><stop offset="0.5055" stop-color="#0010ff"/><stop offset="0.6421" stop-color="#0029ff"/><stop offset="0.7218" stop-color="#003cff"/><stop offset="0.8015" stop-color="#004bff"/><stop offset="0.9358" stop-color="#002aff"/><stop offset="0.9654" stop-color="#0000f7"/><stop offset="0.9699" stop-color="#0000e7"/><stop offset="0.9722" stop-color="#0000ce"/><stop offset="0.9995" stop-color="#0000c7"/></linearGradient>
<linearGradient id="r73"><stop offset="0" stop-color="#0000c9"/><stop offset="0.06375" stop-color="#0000d4"/><stop offset="0.09107" stop-color="#0007ff"/><stop offset="0.1275" stop-color="#0053ff"/><stop offset="0.1821" stop-color="#0000fc"/><stop offset="0.2095" stop-color="#0000da"/><stop offset="0.4212" stop-color="#0000f3"/><stop offset="0.4986" stop-color="#000dff"/><stop offset="0.6421" stop-color="#0027ff"/><stop offset="0.724" stop-color="#0039ff"/><stop offset="0.8015" stop-color="#0048ff"/><stop offset="0.9358" stop-color="#0028ff"/><stop offset="0.9631" stop-color="#0000fc"/><stop offset="0.9699" stop-color="#0000e6"/><stop offset="0.9722" stop-color="#0000ce"/><stop offset="0.9995" stop-color="#0000c7"/></linearGradient>
<linearGradient id="r74"><stop offset="0" stop-color="#0000c9"/><stop offset="0.06375" stop-color="#0000d3"/><stop offset="0.09335" stop-color="#0008ff"/><stop offset="0.1275" stop-color="#0048ff"/><stop offset="0.1821" stop-color="#0000f9"/><stop offset="0.2117" stop-color="#0000d9"/><stop offset="0.4235" stop-color="#0000f4"/><stop offset="0.526" stop-color="#000dff"/><stop offset="0.6444" stop-color="#0023ff"/><stop offset="0.8015" stop-color="#0042ff"/><stop offset="0.9358" stop-color="#0023ff"/><stop offset="0.9631" stop-color="#0000fa"/><stop offset="0.9699" stop-color="#0000e5"/><stop offset="0.9722" stop-color="#0000cd"/><stop offset="0.9995" stop-color="#0000c8"/></linearGradient>
<linearGradient id="r75"><stop offset="0" stop-color="#0000c8"/><stop offset="0.06603" stop-color="#0000d6"/><stop offset="0.09563" stop-color="#0009ff"/><stop offset="0.1298" stop-color="#003fff"/><stop offset="0.1776" stop-color="#0000fc"/><stop offset="0.2095" stop-color="#0000d9"/><stop offset="0.4235" stop-color="#0000f2"/><stop offset="0.5214" stop-color="#000aff"/><stop offset="0.6444" stop-color="#0020ff"/><stop offset="0.8015" stop-color="#003dff"/><stop offset="0.9358" stop-color="#0020ff"/><stop offset="0.9631" stop-color="#0000f8"/><stop offset="0.9699" stop-color="#0000e4"/><stop offset="0.9722" stop-color="#0000cd"/><stop offset="0.9995" stop-color="#0000c8"/></linearGradient>
<linearGradient id="r76"><stop offset="0" stop-color="#0000c8"/><stop offset="0.06603" stop-color="#0000d5"/><stop offset="0.09563" stop-color="#0007ff"/><stop offset="0.1298" stop-color="#0039ff"/><stop offset="0.1753" stop-color="#0000fc"/><stop offset="0.2095" stop-color="#0000d8"/><stop offset="0.4235" stop-color="#0000f0"/><stop offset="0.5214" stop-color="#0007ff"/><stop offset="0.6466" stop-color="#001dff"/><stop offset="0.8037" stop-color="#0037ff"/><stop offset="0.9381" stop-color="#001aff"/><stop offset="0.9631" stop-color="#0000f6"/><stop offset="0.9699" stop-color="#0000e3"/><stop offset="0.9722" stop-color="#0000cd"/><stop offset="0.9995" stop-color="#0000c8"/></linearGradient>
<linearGradient id="r77"><stop offset="0" stop-color="#0000c8"/><stop offset="0.06603" stop-color="#0000d4"/><stop offset="0.09791" stop-color="#0008ff"/><stop offset="0.1298" stop-color="#0032ff"/><stop offset="0.1753" stop-color="#0000f9"/><stop offset="0.2095" stop-color="#0000d8"/><stop offset="0.4349" stop-color="#0000f2"/><stop offset="0.5464" stop-color="#0007ff"/><stop offset="0.6512" stop-color="#001cff"/><stop offset="0.8037" stop-color="#0032ff"/><stop offset="0.9381" stop-color="#0016ff"/><stop offset="0.9608" stop-color="#0000fa"/><stop offset="0.9699" stop-color="#0000e2"/><stop offset="0.9722" stop-color="#0000cd"/><stop offset="0.9995" stop-color="#0000c8"/></linearGradient>
<linearGradient id="r78"><stop offset="0" stop-color="#0000c8"/><stop offset="0.06603" stop-color="#0000d4"/><stop offset="0.1002" stop-color="#0009ff"/><stop offset="0.1298" stop-color="#002cff"/><stop offset="0.173" stop-color="#0000f9"/><stop offset="0.2095" stop-color="#0000d7"/><stop offset="0.4394" stop-color="#0000f1"/><stop offset="0.5897" stop-color="#0008ff"/><stop offset="0.7992" stop-color="#002eff"/><stop offset="0.9381" stop-color="#0012ff"/><stop offset="0.9608" stop-color="#0000f7"/><stop offset="0.9699" stop-color="#0000e0"/><stop offset="0.9722" stop-color="#0000cd"/><stop offset="0.9995" stop-color="#0000c8"/></linearGradient>
<linearGradient id="r79"><stop offset="0" stop-color="#0000c8"/><stop offset="0.06603" stop-color="#0000d3"/><stop offset="0.1002" stop-color="#0006ff"/><stop offset="0.1298" stop-color="#0028ff"/><stop offset="0.1708" stop-color="#0000fa"/><stop offset="0.2095" stop-color="#0000d6"/><stop offset="0.4417" stop-color="#0000f1"/><stop offset="0.6125" stop-color="#0008ff"/><stop offset="0.724" stop-color="#0020ff"/><stop offset="0.806" stop-color="#0029ff"/><stop offset="0.9381" stop-color="#0010ff"/><stop offset="0.9608" stop-color="#0000f6"/><stop offset="0.9699" stop-color="#0000e0"/><stop offset="0.9722" stop-color="#0000cd"/><stop offset="0.9995" stop-color="#0000c8"/></linearGradient>
<linearGradient id="r80"><stop offset="0" stop-color="#0000c8"/><stop offset="0.06831" stop-color="#0000d6"/><stop offset="0.1025" stop-color="#0007ff"/><stop offset="0.1298" stop-color="#0024ff"/><stop offset="0.1685" stop-color="#0000fa"/><stop offset="0.2095" stop-color="#0000d6"/><stop offset="0.4485" stop-color="#0000f0"/><stop offset="0.6421" stop-color="#000dff"/><stop offset="0.806" stop-color="#0023ff"/><stop offset="0.9403" stop-color="#000aff"/><stop offset="0.9608" stop-color="#0000f3"/><stop offset="0.9699" stop-color="#0000df"/><stop offset="0.9722" stop-color="#0000cd"/><stop offset="0.9995" stop-color="#0000c9"/></linearGradient>
<linearGradient id="r81"><stop offset="0" stop-color="#0000c8"/><stop offset="0.06831" stop-color="#0000d5"/><stop offset="0.1047" stop-color="#0008ff"/><stop offset="0.1298" stop-color="#0021ff"/><stop offset="0.1662" stop-color="#0000fb"/><stop offset="0.2095" stop-color="#0000d5"/><stop offset="0.4554" stop-color="#0000f0"/><stop offset="0.6444" stop-color="#000bff"/><stop offset="0.8083" stop-color="#0020ff"/><stop offset="0.9403" stop-color="#0008ff"/><stop offset="0.9631" stop-color="#0000ed"/><stop offset="0.9699" stop-color="#0000de"/><stop offset="0.9722" stop-color="#0000cd"/><stop offset="0.9995" stop-color="#0000c9"/></linearGradient>
<linearGradient id="r82"><stop offset="0" stop-color="#0000c8"/><stop offset="0.06831" stop-color="#0000d4"/><stop offset="0.107" stop-color="#0009ff"/><stop offset="0.1298" stop-color="#001eff"/><stop offset="0.1662" stop-color="#0000f9"/><stop offset="0.2095" stop-color="#0000d5"/><stop offset="0.4622" stop-color="#0000f0"/><stop offset="0.6444" stop-color="#0009ff"/><stop offset="0.8083" stop-color="#001cff"/><stop offset="0.9403" stop-color="#0005ff"/><stop offset="0.9654" stop-color="#0000e7"/><stop offset="0.9745" stop-color="#0000cd"/><stop offset="0.9995" stop-color="#0000c9"/></linearGradient>
<linearGradient id="r83"><stop offset="0" stop-color="#0000c7"/><stop offset="0.06831" stop-color="#0000d4"/><stop offset="0.1093" stop-color="#0009ff"/><stop offset="0.1298" stop-color="#001bff"/><stop offset="0.1639" stop-color="#0000f9"/><stop offset="0.2095" stop-color="#0000d4"/><stop offset="0.4713" stop-color="#0000f0"/><stop offset="0.6535" stop-color="#0008ff"/><stop offset="0.8128" stop-color="#0016ff"/><stop offset="0.9517" stop-color="#0000f8"/><stop offset="0.9699" stop-color="#0000dc"/><stop offset="0.9745" stop-color="#0000cd"/><stop offset="0.9995" stop-color="#0000c9"/></linearGradient>
<linearGradient id="r84"><stop offset="0" stop-color="#0000c7"/><stop offset="0.07058" stop-color="#0000d6"/><stop offset="0.1116" stop-color="#0009ff"/><stop offset="0.1321" stop-color="#0015ff"/><stop offset="0.1639" stop-color="#0000f7"/><stop offset="0.2095" stop-color="#0000d4"/><stop offset="0.4781" stop-color="#0000ef"/><stop offset="0.6671" stop-color="#0009ff"/><stop offset="0.8151" stop-color="#0012ff"/><stop offset="0.9495" stop-color="#0000f8"/><stop offset="0.9699" stop-color="#0000db"/><stop offset="0.9745" stop-color="#0000cd"/><stop offset="0.9995" stop-color="#0000c9"/></linearGradient>
<linearGradient id="r85"><stop offset="0" stop-color="#0000c7"/><stop offset="0.07058" stop-color="#0000d5"/><stop offset="0.1138" stop-color="#0009ff"/><stop offset="0.1321" stop-color="#0012ff"/><stop offset="0.1639" stop-color="#0000f5"/><stop offset="0.2095" stop-color="#0000d3"/><stop offset="0.6853" stop-color="#0008ff"/><stop offset="0.8174" stop-color="#000fff"/><stop offset="0.9472" stop-color="#0000f8"/><stop offset="0.9699" stop-color="#0000da"/><stop offset="0.9745" stop-color="#0000cd"/><stop offset="0.9995" stop-color="#0000c9"/></linearGradient>
<linearGradient id="r86"><stop offset="0" stop-color="#0000c7"/><stop offset="0.07058" stop-color="#0000d4"/><stop offset="0.1161" stop-color="#0009ff"/><stop offset="0.1343" stop-color="#000dff"/><stop offset="0.1685" stop-color="#0000ef"/><stop offset="0.2117" stop-color="#0000d3"/><stop offset="0.6489" stop-color="#0000fd"/><stop offset="0.8174" stop-color="#000bff"/><stop offset="0.9449" stop-color="#0000f6"/><stop offset="0.9699" stop-color="#0000d9"/><stop offset="0.9745" stop-color="#0000cd"/><stop offset="0.9995" stop-color="#0000c9"/></linearGradient>
<linearGradient id="r87"><stop offset="0" stop-color="#0000c7"/><stop offset="0.07286" stop-color="#0000d6"/><stop offset="0.1184" stop-color="#0008ff"/><stop offset="0.1389" stop-color="#0005ff"/><stop offset="0.2117" stop-color="#0000d2"/><stop offset="0.6535" stop-color="#0000fc"/><stop offset="0.8242" stop-color="#0006ff"/><stop offset="0.9426" stop-color="#0000f5"/><stop offset="0.9699" stop-color="#0000d8"/><stop offset="0.9745" stop-color="#0000cc"/><stop offset="0.9995" stop-color="#0000c9"/></linearGradient>
<linearGradient id="r88"><stop offset="0" stop-color="#0000c7"/><stop offset="0.07286" stop-color="#0000d5"/><stop offset="0.123" stop-color="#0009ff"/><stop offset="0.1594" stop-color="#0000f0"/><stop offset="0.2117" stop-color="#0000d2"/><stop offset="0.6694" stop-color="#0000fb"/><stop offset="0.8402" stop-color="#0000ff"/><stop offset="0.9472" stop-color="#0000f0"/><stop offset="0.9699" stop-color="#0000d8"/><stop offset="0.9791" stop-color="#0000ca"/><stop offset="0.9995" stop-color="#0000ca"/></linearGradient>
<linearGradient id="r89"><stop offset="0" stop-color="#0000c7"/><stop offset="0.07286" stop-color="#0000d4"/><stop offset="0.1252" stop-color="#0007ff"/><stop offset="0.214" stop-color="#0000d2"/><stop offset="0.8333" stop-color="#0000fe"/><stop offset="0.9495" stop-color="#0000ed"/><stop offset="0.9813" stop-color="#0000ca"/><stop offset="0.9995" stop-color="#0000ca"/></linearGradient>
<linearGradient id="r90"><stop offset="0" stop-color="#0000c7"/><stop offset="0.07514" stop-color="#0000d6"/><stop offset="0.1298" stop-color="#0003ff"/><stop offset="0.2117" stop-color="#0000d1"/><stop offset="0.8311" stop-color="#0000fb"/><stop offset="0.9495" stop-color="#0000eb"/><stop offset="0.9813" stop-color="#0000ca"/><stop offset="0.9995" stop-color="#0000ca"/></linearGradient>
<linearGradient id="r91"><stop offset="0" stop-color="#0000c7"/><stop offset="0.07514" stop-color="#0000d5"/><stop offset="0.1321" stop-color="#0000fd"/><stop offset="0.2117" stop-color="#0000d1"/><stop offset="0.8265" stop-color="#0000f9"/><stop offset="0.9517" stop-color="#0000e8"/><stop offset="0.9813" stop-color="#0000ca"/><stop offset="0.9995" stop-color="#0000ca"/></linearGradient>
<linearGradient id="r92"><stop offset="0" stop-color="#0000c7"/><stop offset="0.07741" stop-color="#0000d6"/><stop offset="0.1321" stop-color="#0000f9"/><stop offset="0.2117" stop-color="#0000d0"/><stop offset="0.8288" stop-color="#0000f6"/><stop offset="0.954" stop-color="#0000e4"/><stop offset="0.9813" stop-color="#0000ca"/><stop offset="0.9995" stop-color="#0000ca"/></linearGradient>
<linearGradient id="r93"><stop offset="0" stop-color="#0000c7"/><stop offset="0.07741" stop-color="#0000d5"/><stop offset="0.1321" stop-color="#0000f6"/><stop offset="0.214" stop-color="#0000d0"/><stop offset="0.8311" stop-color="#0000f3"/><stop offset="0.954" stop-color="#0000e3"/><stop offset="0.9836" stop-color="#0000ca"/><stop offset="0.9995" stop-color="#0000ca"/></linearGradient>
<linearGradient id="r94"><stop offset="0" stop-color="#0000c7"/><stop offset="0.07969" stop-color="#0000d6"/><stop offset="0.1321" stop-color="#0000f3"/><stop offset="0.214" stop-color="#0000d0"/><stop offset="0.8356" stop-color="#0000f0"/><stop offset="0.9586" stop-color="#0000df"/><stop offset="0.9813" stop-color="#0000ca"/><stop offset="0.9995" stop-color="#0000ca"/></linearGradient>
<linearGradient id="r95"><stop offset="0" stop-color="#0000c7"/><stop offset="0.08197" stop-color="#0000d6"/><stop offset="0.1343" stop-color="#0000ef"/><stop offset="0.2163" stop-color="#0000cf"/><stop offset="0.8402" stop-color="#0000ee"/><stop offset="0.9586" stop-color="#0000de"/><stop offset="0.9836" stop-color="#0000ca"/><stop offset="0.9995" stop-color="#0000ca"/></linearGradient>
<linearGradient id="r96"><stop offset="0" stop-color="#0000c7"/><stop offset="0.08424" stop-color="#0000d6"/><stop offset="0.1343" stop-color="#0000ec"/><stop offset="0.2186" stop-color="#0000cf"/><stop offset="0.8447" stop-color="#0000eb"/><stop offset="0.9608" stop-color="#0000db"/><stop offset="0.9859" stop-color="#0000ca"/><stop offset="0.9995" stop-color="#0000ca"/></linearGradient>
<linearGradient id="r97"><stop offset="0" stop-color="#0000c7"/><stop offset="0.08652" stop-color="#0000d6"/><stop offset="0.1366" stop-color="#0000e8"/><stop offset="0.2209" stop-color="#0000cf"/><stop offset="0.8515" stop-color="#0000e8"/><stop offset="0.9608" stop-color="#0000da"/><stop offset="0.9882" stop-color="#0000ca"/><stop offset="0.9995" stop-color="#0000ca"/></linearGradient>
<linearGradient id="r98"><stop offset="0" stop-color="#0000c7"/><stop offset="0.0888" stop-color="#0000d7"/><stop offset="0.1366" stop-color="#0000e5"/><stop offset="0.2254" stop-color="#0000ce"/><stop offset="0.8584" stop-color="#0000e6"/><stop offset="0.9631" stop-color="#0000d7"/><stop offset="0.995" stop-color="#0000ca"/><stop offset="0.9995" stop-color="#0000ca"/></linearGradient>
<linearGradient id="r99"><stop offset="0" stop-color="#0000c7"/><stop offset="0.09107" stop-color="#0000d7"/><stop offset="0.1389" stop-color="#0000e3"/><stop offset="0.2277" stop-color="#0000ce"/><stop offset="0.8698" stop-color="#0000e4"/><stop offset="0.9654" stop-color="#0000d4"/><stop offset="0.9995" stop-color="#0000ca"/></linearGradient>
<linearGradient id="r100"><stop offset="0" stop-color="#0000c7"/><stop offset="0.09335" stop-color="#0000d7"/><stop offset="0.1389" stop-color="#0000e1"/><stop offset="0.23" stop-color="#0000ce"/><stop offset="0.888" stop-color="#0000e2"/><stop offset="0.9699" stop-color="#0000d0"/><stop offset="0.9995" stop-color="#0000ca"/></linearGradient>
<linearGradient id="r101"><stop offset="0" stop-color="#0000c7"/><stop offset="0.09791" stop-color="#0000d8"/><stop offset="0.1434" stop-color="#0000de"/><stop offset="0.2368" stop-color="#0000cd"/><stop offset="0.9016" stop-color="#0000df"/><stop offset="0.9995" stop-color="#0000ca"/></linearGradient>
<linearGradient id="r102"><stop offset="0" stop-color="#0000c7"/><stop offset="0.1002" stop-color="#0000d8"/><stop offset="0.1457" stop-color="#0000dc"/><stop offset="0.2459" stop-color="#0000cd"/><stop offset="0.913" stop-color="#0000de"/><stop offset="0.9995" stop-color="#0000ca"/></linearGradient>
<linearGradient id="r103"><stop offset="0" stop-color="#0000c7"/><stop offset="0.1047" stop-color="#0000d9"/><stop offset="0.1526" stop-color="#0000d8"/><stop offset="0.2709" stop-color="#0000cd"/><stop offset="0.9176" stop-color="#0000dc"/><stop offset="0.9995" stop-color="#0000ca"/></linearGradient>
<linearGradient id="r104"><stop offset="0" stop-color="#0000c7"/><stop offset="0.1116" stop-color="#0000da"/><stop offset="0.296" stop-color="#0000cd"/><stop offset="0.9244" stop-color="#0000da"/><stop offset="0.9995" stop-color="#0000ca"/></linearGradient>
<linearGradient id="r105"><stop offset="0" stop-color="#0000c7"/><stop offset="0.1207" stop-color="#0000db"/><stop offset="0.2664" stop-color="#0000cc"/><stop offset="0.9335" stop-color="#0000d8"/><stop offset="0.9995" stop-color="#0000ca"/></linearGradient>
<linearGradient id="r106"><stop offset="0" stop-color="#0000c7"/><stop offset="0.148" stop-color="#0000d6"/><stop offset="0.3188" stop-color="#0000cd"/><stop offset="0.9403" stop-color="#0000d5"/><stop offset="0.9995" stop-color="#0000ca"/></linearGradient>
<linearGradient id="r107"><stop offset="0" stop-color="#0000c7"/><stop offset="0.1503" stop-color="#0000d5"/><stop offset="0.3461" stop-color="#0000cd"/><stop offset="0.9472" stop-color="#0000d3"/><stop offset="0.9995" stop-color="#0000ca"/></linearGradient>
<linearGradient id="r108"><stop offset="0" stop-color="#0000c7"/><stop offset="0.1503" stop-color="#0000d5"/><stop offset="0.3689" stop-color="#0000cd"/><stop offset="0.9517" stop-color="#0000d2"/><stop offset="0.9995" stop-color="#0000ca"/></linearGradient>
<linearGradient id="r109"><stop offset="0" stop-color="#0000c7"/><stop offset="0.1526" stop-color="#0000d4"/><stop offset="0.4372" stop-color="#0000ce"/><stop offset="0.9608" stop-color="#0000cf"/><stop offset="0.9995" stop-color="#0000ca"/></linearGradient>
<linearGradient id="r110"><stop offset="0" stop-color="#0000c7"/><stop offset="0.1526" stop-color="#0000d3"/><stop offset="0.4759" stop-color="#0000cf"/><stop offset="0.9677" stop-color="#0000cd"/><stop offset="0.9995" stop-color="#0000ca"/></linearGradient>
<linearGradient id="r111"><stop offset="0" stop-color="#0000c7"/><stop offset="0.1526" stop-color="#0000d3"/><stop offset="0.5874" stop-color="#0000d0"/><stop offset="0.9995" stop-color="#0000ca"/></linearGradient>
<linearGradient id="r112"><stop offset="0" stop-color="#0000c7"/><stop offset="0.1548" stop-color="#0000d2"/><stop offset="0.9995" stop-color="#0000ca"/></linearGradient>
<linearGradient id="r113"><stop offset="0" stop-color="#0000c7"/><stop offset="0.1548" stop-color="#0000d1"/><stop offset="0.9995" stop-color="#0000ca"/></linearGradient>
<linearGradient id="r114"><stop offset="0" stop-color="#0000c7"/><stop offset="0.1571" stop-color="#0000d0"/><stop offset="0.9995" stop-color="#0000c9"/></linearGradient>
<linearGradient id="r115"><stop offset="0" stop-color="#0000c7"/><stop offset="0.1594" stop-color="#0000d0"/><stop offset="0.9995" stop-color="#0000c9"/></linearGradient>
<linearGradient id="r116"><stop offset="0" stop-color="#0000c7"/><stop offset="0.1594" stop-color="#0000cf"/><stop offset="0.9995" stop-color="#0000c9"/></linearGradient>
<linearGradient id="r117"><stop offset="0" stop-color="#0000c7"/><stop offset="0.1639" stop-color="#0000ce"/><stop offset="0.9995" stop-color="#0000c9"/></linearGradient>
<linearGradient id="r118"><stop offset="0" stop-color="#0000c7"/><stop offset="0.1662" stop-color="#0000ce"/><stop offset="0.9995" stop-color="#0000c9"/></linearGradient>
<linearGradient id="r119"><stop offset="0" stop-color="#0000c7"/><stop offset="0.1685" stop-color="#0000cd"/><stop offset="0.9995" stop-color="#0000c9"/></linearGradient>
<linearGradient id="r120"><stop offset="0" stop-color="#0000c7"/><stop offset="0.1708" stop-color="#0000cc"/><stop offset="0.9995" stop-color="#0000c9"/></linearGradient>
<linearGradient id="r121"><stop offset="0" stop-color="#0000c7"/><stop offset="0.173" stop-color="#0000cc"/><stop offset="0.9995" stop-color="#0000c9"/></linearGradient>
<linearGradient id="r122"><stop offset="0" stop-color="#0000c8"/><stop offset="0.1776" stop-color="#0000cb"/><stop offset="0.9995" stop-color="#0000c9"/></linearGradient>
<linearGradient id="r123"><stop offset="0" stop-color="#0000c8"/><stop offset="0.1821" stop-color="#0000ca"/><stop offset="0.9995" stop-color="#0000c9"/></linearGradient>
<linearGradient id="r124"><stop offset="0" stop-color="#0000c8"/><stop offset="0.2368" stop-color="#0000c9"/><stop offset="0.9995" stop-color="#0000c9"/></linearGradient>
<linearGradient id="r125"><stop offset="0" stop-color="#0000c8"/><stop offset="0.9995" stop-color="#0000c9"/></linearGradient>
<linearGradient id="r126"><stop offset="0" stop-color="#0000c8"/><stop offset="0.9995" stop-color="#0000c9"/></linearGradient>
<linearGradient id="r127"><stop offset="0" stop-color="#0000c8"/><stop offset="0.9995" stop-color="#0000c9"/></linearGradient>
<linearGradient id="r128"><stop offset="0" stop-color="#0000c8"/><stop offset="0.9995" stop-color="#0000c9"/></linearGradient>
<linearGradient id="r129"><stop offset="0" stop-color="#0000c8"/><stop offset="0.9995" stop-color="#0000c9"/></linearGradient>
<linearGradient id="r130"><stop offset="0" stop-color="#0000c9"/><stop offset="0.9995" stop-color="#0000c9"/></linearGradient>
<linearGradient id="r131"><stop offset="0" stop-color="#0000c9"/><stop offset="0.9995" stop-color="#0000c9"/></linearGradient>
<linearGradient id="r132"><stop offset="0" stop-color="#0000c9"/><stop offset="0.9995" stop-color="#0000c9"/></linearGradient>
</defs>
<rect width="520" height="649" fill="#fff"/>
<g shape-rendering="crispEdges">
<rect x="78.8" y="147" width="439.2" height="2.6" fill="url(#r0)"/>
<rect x="78.8" y="149" width="439.2" height="2.6" fill="url(#r1)"/>
<rect x="78.8" y="151" width="439.2" height="2.6" fill="url(#r2)"/>
<rect x="78.8" y="153" width="439.2" height="2.6" fill="url(#r3)"/>
<rect x="78.8" y="155" width="439.2" height="2.6" fill="url(#r4)"/>
<rect x="78.8" y="157" width="439.2" height="2.6" fill="url(#r5)"/>
<rect x="78.8" y="159" width="439.2" height="2.6" fill="url(#r6)"/>
<rect x="78.8" y="161" width="439.2" height="2.6" fill="url(#r7)"/>
<rect x="78.8" y="163" width="439.2" height="2.6" fill="url(#r8)"/>
<rect x="78.8" y="165" width="439.2" height="2.6" fill="url(#r9)"/>
<rect x="78.8" y="167" width="439.2" height="2.6" fill="url(#r10)"/>
<rect x="78.8" y="169" width="439.2" height="2.6" fill="url(#r11)"/>
<rect x="78.8" y="171" width="439.2" height="2.6" fill="url(#r12)"/>
<rect x="78.8" y="173" width="439.2" height="2.6" fill="url(#r13)"/>
<rect x="78.8" y="175" width="439.2" height="2.6" fill="url(#r14)"/>
<rect x="78.8" y="177" width="439.2" height="2.6" fill="url(#r15)"/>
<rect x="78.8" y="179" width="439.2" height="2.6" fill="url(#r16)"/>
<rect x="78.8" y="181" width="439.2" height="2.6" fill="url(#r17)"/>
<rect x="78.8" y="183" width="439.2" height="2.6" fill="url(#r18)"/>
<rect x="78.8" y="185" width="439.2" height="2.6" fill="url(#r19)"/>
<rect x="78.8" y="187" width="439.2" height="2.6" fill="url(#r20)"/>
<rect x="78.8" y="189" width="439.2" height="2.6" fill="url(#r21)"/>
<rect x="78.8" y="191" width="439.2" height="2.6" fill="url(#r22)"/>
<rect x="78.8" y="193" width="439.2" height="2.6" fill="url(#r23)"/>
<rect x="78.8" y="195" width="439.2" height="2.6" fill="url(#r24)"/>
<rect x="78.8" y="197" width="439.2" height="2.6" fill="url(#r25)"/>
<rect x="78.8" y="199" width="439.2" height="2.6" fill="url(#r26)"/>
<rect x="78.8" y="201" width="439.2" height="2.6" fill="url(#r27)"/>
<rect x="78.8" y="203" width="439.2" height="2.6" fill="url(#r28)"/>
<rect x="78.8" y="205" width="439.2" height="2.6" fill="url(#r29)"/>
<rect x="78.8" y="207" width="439.2" height="2.6" fill="url(#r30)"/>
<rect x="78.8" y="209" width="439.2" height="2.6" fill="url(#r31)"/>
<rect x="78.8" y="211" width="439.2" height="2.6" fill="url(#r32)"/>
<rect x="78.8" y="213" width="439.2" height="2.6" fill="url(#r33)"/>
<rect x="78.8" y="215" width="439.2" height="2.6" fill="url(#r34)"/>
<rect x="78.8" y="217" width="439.2" height="2.6" fill="url(#r35)"/>
<rect x="78.8" y="219" width="439.2" height="2.6" fill="url(#r36)"/>
<rect x="78.8" y="221" width="439.2" height="2.6" fill="url(#r37)"/>
<rect x="78.8" y="223" width="439.2" height="2.6" fill="url(#r38)"/>
<rect x="78.8" y="225" width="439.2" height="2.6" fill="url(#r39)"/>
<rect x="78.8" y="227" width="439.2" height="2.6" fill="url(#r40)"/>
<rect x="78.8" y="229" width="439.2" height="2.6" fill="url(#r41)"/>
<rect x="78.8" y="231" width="439.2" height="2.6" fill="url(#r42)"/>
<rect x="78.8" y="233" width="439.2" height="2.6" fill="url(#r43)"/>
<rect x="78.8" y="235" width="439.2" height="2.6" fill="url(#r44)"/>
<rect x="78.8" y="237" width="439.2" height="2.6" fill="url(#r45)"/>
<rect x="78.8" y="239" width="439.2" height="2.6" fill="url(#r46)"/>
<rect x="78.8" y="241" width="439.2" height="2.6" fill="url(#r47)"/>
<rect x="78.8" y="243" width="439.2" height="2.6" fill="url(#r48)"/>
<rect x="78.8" y="245" width="439.2" height="2.6" fill="url(#r49)"/>
<rect x="78.8" y="247" width="439.2" height="2.6" fill="url(#r50)"/>
<rect x="78.8" y="249" width="439.2" height="2.6" fill="url(#r51)"/>
<rect x="78.8" y="251" width="439.2" height="2.6" fill="url(#r52)"/>
<rect x="78.8" y="253" width="439.2" height="2.6" fill="url(#r53)"/>
<rect x="78.8" y="255" width="439.2" height="2.6" fill="url(#r54)"/>
<rect x="78.8" y="257" width="439.2" height="2.6" fill="url(#r55)"/>
<rect x="78.8" y="259" width="439.2" height="2.6" fill="url(#r56)"/>
<rect x="78.8" y="261" width="439.2" height="2.6" fill="url(#r57)"/>
<rect x="78.8" y="263" width="439.2" height="2.6" fill="url(#r58)"/>
<rect x="78.8" y="265" width="439.2" height="2.6" fill="url(#r59)"/>
<rect x="78.8" y="267" width="439.2" height="2.6" fill="url(#r60)"/>
<rect x="78.8" y="269" width="439.2" height="2.6" fill="url(#r61)"/>
<rect x="78.8" y="271" width="439.2" height="2.6" fill="url(#r62)"/>
<rect x="78.8" y="273" width="439.2" height="2.6" fill="url(#r63)"/>
<rect x="78.8" y="275" width="439.2" height="2.6" fill="url(#r64)"/>
<rect x="78.8" y="277" width="439.2" height="2.6" fill="url(#r65)"/>
<rect x="78.8" y="279" width="439.2" height="2.6" fill="url(#r66)"/>
<rect x="78.8" y="281" width="439.2" height="2.6" fill="url(#r67)"/>
<rect x="78.8" y="283" width="439.2" height="2.6" fill="url(#r68)"/>
<rect x="78.8" y="285" width="439.2" height="2.6" fill="url(#r69)"/>
<rect x="78.8" y="287" width="439.2" height="2.6" fill="url(#r70)"/>
<rect x="78.8" y="289" width="439.2" height="2.6" fill="url(#r71)"/>
<rect x="78.8" y="291" width="439.2" height="2.6" fill="url(#r72)"/>
<rect x="78.8" y="293" width="439.2" height="2.6" fill="url(#r73)"/>
<rect x="78.8" y="295" width="439.2" height="2.6" fill="url(#r74)"/>
<rect x="78.8" y="297" width="439.2" height="2.6" fill="url(#r75)"/>
<rect x="78.8" y="299" width="439.2" height="2.6" fill="url(#r76)"/>
<rect x="78.8" y="301" width="439.2" height="2.6" fill="url(#r77)"/>
<rect x="78.8" y="303" width="439.2" height="2.6" fill="url(#r78)"/>
<rect x="78.8" y="305" width="439.2" height="2.6" fill="url(#r79)"/>
<rect x="78.8" y="307" width="439.2" height="2.6" fill="url(#r80)"/>
<rect x="78.8" y="309" width="439.2" height="2.6" fill="url(#r81)"/>
<rect x="78.8" y="311" width="439.2" height="2.6" fill="url(#r82)"/>
<rect x="78.8" y="313" width="439.2" height="2.6" fill="url(#r83)"/>
<rect x="78.8" y="315" width="439.2" height="2.6" fill="url(#r84)"/>
<rect x="78.8" y="317" width="439.2" height="2.6" fill="url(#r85)"/>
<rect x="78.8" y="319" width="439.2" height="2.6" fill="url(#r86)"/>
<rect x="78.8" y="321" width="439.2" height="2.6" fill="url(#r87)"/>
<rect x="78.8" y="323" width="439.2" height="2.6" fill="url(#r88)"/>
<rect x="78.8" y="325" width="439.2" height="2.6" fill="url(#r89)"/>
<rect x="78.8" y="327" width="439.2" height="2.6" fill="url(#r90)"/>
<rect x="78.8" y="329" width="439.2" height="2.6" fill="url(#r91)"/>
<rect x="78.8" y="331" width="439.2" height="2.6" fill="url(#r92)"/>
<rect x="78.8" y="333" width="439.2" height="2.6" fill="url(#r93)"/>
<rect x="78.8" y="335" width="439.2" height="2.6" fill="url(#r94)"/>
<rect x="78.8" y="337" width="439.2" height="2.6" fill="url(#r95)"/>
<rect x="78.8" y="339" width="439.2" height="2.6" fill="url(#r96)"/>
<rect x="78.8" y="341" width="439.2" height="2.6" fill="url(#r97)"/>
<rect x="78.8" y="343" width="439.2" height="2.6" fill="url(#r98)"/>
<rect x="78.8" y="345" width="439.2" height="2.6" fill="url(#r99)"/>
<rect x="78.8" y="347" width="439.2" height="2.6" fill="url(#r100)"/>
<rect x="78.8" y="349" width="439.2" height="2.6" fill="url(#r101)"/>
<rect x="78.8" y="351" width="439.2" height="2.6" fill="url(#r102)"/>
<rect x="78.8" y="353" width="439.2" height="2.6" fill="url(#r103)"/>
<rect x="78.8" y="355" width="439.2" height="2.6" fill="url(#r104)"/>
<rect x="78.8" y="357" width="439.2" height="2.6" fill="url(#r105)"/>
<rect x="78.8" y="359" width="439.2" height="2.6" fill="url(#r106)"/>
<rect x="78.8" y="361" width="439.2" height="2.6" fill="url(#r107)"/>
<rect x="78.8" y="363" width="439.2" height="2.6" fill="url(#r108)"/>
<rect x="78.8" y="365" width="439.2" height="2.6" fill="url(#r109)"/>
<rect x="78.8" y="367" width="439.2" height="2.6" fill="url(#r110)"/>
<rect x="78.8" y="369" width="439.2" height="2.6" fill="url(#r111)"/>
<rect x="78.8" y="371" width="439.2" height="2.6" fill="url(#r112)"/>
<rect x="78.8" y="373" width="439.2" height="2.6" fill="url(#r113)"/>
<rect x="78.8" y="375" width="439.2" height="2.6" fill="url(#r114)"/>
<rect x="78.8" y="377" width="439.2" height="2.6" fill="url(#r115)"/>
<rect x="78.8" y="379" width="439.2" height="2.6" fill="url(#r116)"/>
<rect x="78.8" y="381" width="439.2" height="2.6" fill="url(#r117)"/>
<rect x="78.8" y="383" width="439.2" height="2.6" fill="url(#r118)"/>
<rect x="78.8" y="385" width="439.2" height="2.6" fill="url(#r119)"/>
<rect x="78.8" y="387" width="439.2" height="2.6" fill="url(#r120)"/>
<rect x="78.8" y="389" width="439.2" height="2.6" fill="url(#r121)"/>
<rect x="78.8" y="391" width="439.2" height="2.6" fill="url(#r122)"/>
<rect x="78.8" y="393" width="439.2" height="2.6" fill="url(#r123)"/>
<rect x="78.8" y="395" width="439.2" height="2.6" fill="url(#r124)"/>
<rect x="78.8" y="397" width="439.2" height="2.6" fill="url(#r125)"/>
<rect x="78.8" y="399" width="439.2" height="2.6" fill="url(#r126)"/>
<rect x="78.8" y="401" width="439.2" height="2.6" fill="url(#r127)"/>
<rect x="78.8" y="403" width="439.2" height="2.6" fill="url(#r128)"/>
<rect x="78.8" y="405" width="439.2" height="2.6" fill="url(#r129)"/>
<rect x="78.8" y="407" width="439.2" height="2.6" fill="url(#r130)"/>
<rect x="78.8" y="409" width="439.2" height="2.6" fill="url(#r131)"/>
<rect x="78.8" y="411" width="439.2" height="1" fill="url(#r132)"/>
</g>
<rect x="103.5" y="360" width="100" height="21.5" fill="url(#cb)"/>
<path d="M128 360.3H203.2V381" stroke="#a08a6a" stroke-opacity="0.7" stroke-width="0.8" fill="none"/>
<g stroke="#000" fill="none" stroke-width="1.9">
<path d="M79.3 0V146.4M79.3 412.1V596.4"/>
<path d="M518.6 0V146.4M518.6 412.1V596.4" stroke-width="1.1" stroke="#222"/>
<path d="M78.4 0.5H519.5"/>
<path d="M78.4 146.4H519.5" stroke-width="2"/>
<path d="M78.4 412.1H519.5" stroke-width="2"/>
<path d="M78.4 595.5H519.5"/>
</g>
<g stroke="#000" stroke-width="1.6" fill="none">
<path d="M80 48.8h8.3M80 96.2h5.3" stroke-width="1.5"/>
<path d="M80 459.8h7.3M80 528.3h7" stroke-width="1.5"/>
<path d="M80 494.6h4.4M80 561.4h4.2" stroke-width="1.4"/>
<path d="M139.0 595.5v-6.2M210.8 595.5v-6.2M282.6 595.5v-6.2M354.4 595.5v-6.2M426.2 595.5v-6.2M498.0 595.5v-6.2" stroke-width="1.4"/>
<path d="M103.1 595.5v-3.6M174.9 595.5v-3.6M246.7 595.5v-3.6M318.5 595.5v-3.6M390.3 595.5v-3.6M462.1 595.5v-3.6" stroke-width="1.3"/>
</g>
<path d="M94.0 142.5 L97.0 140.8 L101.0 139.2 L106.0 137.6 L110.0 136.2 L114.0 134.0 L117.0 131.0 L120.0 127.5 L122.5 124.6 L124.5 123.6 L127.0 124.2 L131.0 124.6 L135.0 124.4 L139.0 123.8 L141.5 122.8 L144.5 122.6 L147.0 124.4 L150.0 127.6 L154.0 131.5 L158.0 135.2 L161.0 137.0 L164.0 137.4 L168.0 137.0 L174.0 136.4 L180.0 135.6 L186.0 134.2 L192.0 133.0 L198.0 132.0 L205.0 130.6 L212.0 129.0 L219.0 127.4 L226.0 125.8 L233.0 124.2 L238.0 122.4 L241.0 122.8 L245.0 121.2 L251.0 119.4 L257.0 117.4 L263.0 115.6 L268.0 114.2 L273.0 113.4 L278.0 112.4 L281.0 110.2 L285.0 107.6 L289.0 104.4 L293.0 101.4 L296.0 100.4 L299.0 98.2 L303.0 96.4 L307.0 95.4 L311.0 94.4 L315.0 92.2 L319.0 90.0 L323.0 87.6 L327.0 85.0 L331.0 82.8 L334.0 82.0 L337.0 83.6 L340.0 83.0 L344.0 84.0 L348.0 83.0 L353.0 81.6 L357.0 80.0 L360.0 77.0 L363.0 73.0 L366.0 68.6 L369.0 63.4 L372.0 58.6 L375.0 55.0 L378.0 52.4 L381.0 50.2 L385.0 48.4 L389.0 47.4 L393.0 46.4 L396.0 45.0 L398.0 42.0 L401.0 38.0 L404.0 34.4 L406.0 32.6 L409.0 32.2 L412.0 31.2 L415.0 29.6 L417.0 26.0 L419.0 21.6 L420.5 23.6 L422.0 19.0 L423.0 15.2 L424.2 19.6 L425.5 22.6 L427.0 24.0 L428.5 28.0 L430.5 31.2 L433.0 30.6 L436.0 29.4 L439.0 28.0 L442.0 26.4 L444.5 26.0 L446.5 28.6 L448.5 32.0 L450.0 36.0 L451.0 39.0 L452.5 36.4 L454.5 34.0 L457.0 32.2 L459.5 30.2 L462.0 28.4 L464.0 29.6 L466.5 32.8 L469.0 34.4 L471.5 35.6 L473.5 38.6 L475.5 44.0 L477.5 51.0 L479.5 59.0 L481.5 67.6 L483.5 77.6 L485.2 89.0 L486.6 101.0 L487.8 113.0 L489.0 124.0 L490.2 132.6 L491.6 137.4 L493.6 139.6 L496.5 140.6 L500.5 141.8" fill="none" stroke="url(#sg)" stroke-width="3.1" stroke-linejoin="round" stroke-linecap="round"/>
<path d="M101.5 496.5V543.5M97.0 496.5h9M97.0 543.5h9" stroke="#111" stroke-width="1.15" fill="none"/>
<rect x="97.6" y="517.5" width="8" height="5.4" fill="#000"/>
<path d="M113.5 502.5V534.5M109.0 502.5h9M109.0 534.5h9" stroke="#111" stroke-width="1.15" fill="none"/>
<rect x="109.7" y="515.9" width="8" height="5.4" fill="#000"/>
<path d="M126.5 511.5V559.5M122.0 511.5h9M122.0 559.5h9" stroke="#111" stroke-width="1.15" fill="none"/>
<rect x="122.0" y="532.3" width="8" height="5.4" fill="#000"/>
<path d="M138.5 509.5V557.5M134.0 509.5h9M134.0 557.5h9" stroke="#111" stroke-width="1.15" fill="none"/>
<rect x="134.5" y="530.8" width="8" height="5.4" fill="#000"/>
<path d="M150.5 511.5V540.5M146.0 511.5h9M146.0 540.5h9" stroke="#111" stroke-width="1.15" fill="none"/>
<rect x="146.8" y="523.0" width="8" height="5.4" fill="#000"/>
<path d="M249.5 489.5V520.5M245.0 489.5h9M245.0 520.5h9" stroke="#111" stroke-width="1.15" fill="none"/>
<rect x="245.4" y="502.3" width="8" height="5.4" fill="#000"/>
<path d="M261.5 464.5V490.5M257.0 464.5h9M257.0 490.5h9" stroke="#111" stroke-width="1.15" fill="none"/>
<rect x="257.8" y="474.0" width="8" height="5.4" fill="#000"/>
<path d="M273.5 474.5V505.5M269.0 474.5h9M269.0 505.5h9" stroke="#111" stroke-width="1.15" fill="none"/>
<rect x="269.9" y="487.3" width="8" height="5.4" fill="#000"/>
<path d="M286.5 477.5V503.5M282.0 477.5h9M282.0 503.5h9" stroke="#111" stroke-width="1.15" fill="none"/>
<rect x="282.3" y="487.6" width="8" height="5.4" fill="#000"/>
<path d="M298.5 476.5V503.5M294.0 476.5h9M294.0 503.5h9" stroke="#111" stroke-width="1.15" fill="none"/>
<rect x="294.7" y="487.0" width="8" height="5.4" fill="#000"/>
<path d="M277.5 447.5V487.5M273.0 447.5h9M273.0 487.5h9" stroke="#111" stroke-width="1.15" fill="none"/>
<rect x="273.7" y="464.5" width="8" height="5.4" fill="#000"/>
<path d="M289.5 452.5V492.5M285.0 452.5h9M285.0 492.5h9" stroke="#111" stroke-width="1.15" fill="none"/>
<rect x="285.8" y="469.7" width="8" height="5.4" fill="#000"/>
<path d="M302.5 458.5V498.5M298.0 458.5h9M298.0 498.5h9" stroke="#111" stroke-width="1.15" fill="none"/>
<rect x="298.5" y="475.2" width="8" height="5.4" fill="#000"/>
<path d="M314.5 467.5V502.5M310.0 467.5h9M310.0 502.5h9" stroke="#111" stroke-width="1.15" fill="none"/>
<rect x="310.9" y="481.5" width="8" height="5.4" fill="#000"/>
<path d="M327.5 471.5V507.5M323.0 471.5h9M323.0 507.5h9" stroke="#111" stroke-width="1.15" fill="none"/>
<rect x="323.0" y="486.1" width="8" height="5.4" fill="#000"/>
<path d="M339.5 473.5V507.5M335.0 473.5h9M335.0 507.5h9" stroke="#111" stroke-width="1.15" fill="none"/>
<rect x="335.4" y="487.6" width="8" height="5.4" fill="#000"/>
<path d="M351.5 475.5V513.5M347.0 475.5h9M347.0 513.5h9" stroke="#111" stroke-width="1.15" fill="none"/>
<rect x="347.5" y="491.0" width="8" height="5.4" fill="#000"/>
<path d="M364.5 481.5V511.5M360.0 481.5h9M360.0 511.5h9" stroke="#111" stroke-width="1.15" fill="none"/>
<rect x="360.2" y="493.3" width="8" height="5.4" fill="#000"/>
<path d="M376.5 482.5V513.5M372.0 482.5h9M372.0 513.5h9" stroke="#111" stroke-width="1.15" fill="none"/>
<rect x="372.3" y="495.3" width="8" height="5.4" fill="#000"/>
<path d="M388.5 487.5V516.5M384.0 487.5h9M384.0 516.5h9" stroke="#111" stroke-width="1.15" fill="none"/>
<rect x="384.7" y="499.3" width="8" height="5.4" fill="#000"/>
<path d="M401.5 490.5V518.5M397.0 490.5h9M397.0 518.5h9" stroke="#111" stroke-width="1.15" fill="none"/>
<rect x="397.2" y="501.7" width="8" height="5.4" fill="#000"/>
<path d="M413.5 491.5V517.5M409.0 491.5h9M409.0 517.5h9" stroke="#111" stroke-width="1.15" fill="none"/>
<rect x="409.6" y="501.7" width="8" height="5.4" fill="#000"/>
<path d="M426.5 493.5V516.5M422.0 493.5h9M422.0 516.5h9" stroke="#111" stroke-width="1.15" fill="none"/>
<rect x="422.0" y="502.3" width="8" height="5.4" fill="#000"/>
<path d="M438.5 491.5V514.5M434.0 491.5h9M434.0 514.5h9" stroke="#111" stroke-width="1.15" fill="none"/>
<rect x="434.0" y="500.0" width="8" height="5.4" fill="#000"/>
<path d="M450.5 486.5V513.5M446.0 486.5h9M446.0 513.5h9" stroke="#111" stroke-width="1.15" fill="none"/>
<rect x="446.5" y="496.8" width="8" height="5.4" fill="#000"/>
<path d="M462.5 483.5V509.5M458.0 483.5h9M458.0 509.5h9" stroke="#111" stroke-width="1.15" fill="none"/>
<rect x="458.6" y="493.9" width="8" height="5.4" fill="#000"/>
<path d="M475.5 479.5V504.5M471.0 479.5h9M471.0 504.5h9" stroke="#111" stroke-width="1.15" fill="none"/>
<rect x="471.0" y="488.3" width="8" height="5.4" fill="#000"/>
<path d="M487.5 473.5V503.5M483.0 473.5h9M483.0 503.5h9" stroke="#111" stroke-width="1.15" fill="none"/>
<rect x="483.4" y="485.6" width="8" height="5.4" fill="#000"/>
<path d="M499.5 477.5V510.5M495.0 477.5h9M495.0 510.5h9" stroke="#111" stroke-width="1.15" fill="none"/>
<rect x="495.8" y="491.0" width="8" height="5.4" fill="#000"/>
<text transform="translate(109.55 113.80) scale(1.1575 1)" font-size="22" fill="#000" stroke="#000" stroke-width="0.5">SHG</text>
<text transform="translate(401.02 110.60) scale(1.0853 1)" font-size="22" fill="#000" stroke="#000" stroke-width="0.5">TPPL</text>
<text transform="translate(484.32 132.00) scale(1.1009 1)" font-size="22" fill="#000" stroke="#000" stroke-width="0.5">(a)</text>
<text transform="translate(479.19 379.20) scale(1.1459 1)" font-size="22" fill="#fff" stroke="#fff" stroke-width="0.5">(b)</text>
<text transform="translate(481.78 577.50) scale(1.0990 1)" font-size="22" fill="#000" stroke="#000" stroke-width="0.5">(c)</text>
<text transform="translate(49.41 161.50) scale(0.9490 1)" font-size="22" fill="#000" stroke="#000" stroke-width="0.5">60</text>
<text transform="translate(49.13 290.70) scale(0.9782 1)" font-size="22" fill="#000" stroke="#000" stroke-width="0.5">30</text>
<text transform="translate(62.18 393.80) scale(0.9739 1)" font-size="22" fill="#000" stroke="#000" stroke-width="0.5">0</text>
<text transform="translate(93.41 358.10) scale(1.1091 1)" font-size="21" fill="#fff" stroke="#fff" stroke-width="0.5">0</text>
<text transform="translate(183.61 358.10) scale(1.1134 1)" font-size="21" fill="#fff" stroke="#fff" stroke-width="0.5">20</text>
<text transform="translate(112.58 400.50) scale(1.0963 1)" font-size="22" fill="#fff" stroke="#fff" stroke-width="0.5">kcnts/s</text>
<text transform="translate(39.75 467.80) scale(1.0781 1)" font-size="22" fill="#000" stroke="#000" stroke-width="0.5">2.5</text>
<text transform="translate(61.87 537.80) scale(1.1442 1)" font-size="22" fill="#000" stroke="#000" stroke-width="0.5">2</text>
<text transform="translate(39.24 593.20) scale(1.0935 1)" font-size="22" fill="#000" stroke="#000" stroke-width="0.5">1.5</text>
<text transform="translate(118.63 615.80) scale(1.0300 1)" font-size="22" fill="#000" stroke="#000" stroke-width="0.5">400</text>
<text transform="translate(190.14 615.80) scale(1.0100 1)" font-size="22" fill="#000" stroke="#000" stroke-width="0.5">450</text>
<text transform="translate(262.09 615.80) scale(1.0064 1)" font-size="22" fill="#000" stroke="#000" stroke-width="0.5">500</text>
<text transform="translate(336.04 615.80) scale(0.9758 1)" font-size="22" fill="#000" stroke="#000" stroke-width="0.5">550</text>
<text transform="translate(406.90 616.40) scale(0.9620 1)" font-size="22" fill="#000" stroke="#000" stroke-width="0.5">600</text>
<text transform="translate(476.42 615.80) scale(0.9418 1)" font-size="22" fill="#000" stroke="#000" stroke-width="0.5">650</text>
<text transform="translate(190.48 643.00) scale(1.0354 1)" font-size="23.2" fill="#000" stroke="#000" stroke-width="0.5">Wavelength (nm)</text>
<text transform="translate(18.50 329.87) rotate(-90) scale(0.9873 1)" font-size="22" fill="#000" stroke="#000" stroke-width="0.5">Input power</text>
<text transform="translate(39.00 312.87) rotate(-90) scale(1.0714 1)" font-size="22" fill="#000" stroke="#000" stroke-width="0.5">kW/cm<tspan dy="-7" font-size="20">2</tspan></text>
<text transform="translate(18.40 569.98) rotate(-90) scale(0.9908 1)" font-size="22" fill="#000" stroke="#000" stroke-width="0.5">Power law</text>
<text transform="translate(37.50 566.99) rotate(-90) scale(0.9907 1)" font-size="22" fill="#000" stroke="#000" stroke-width="0.5">exponent</text>
</svg>
</body>
</html>
